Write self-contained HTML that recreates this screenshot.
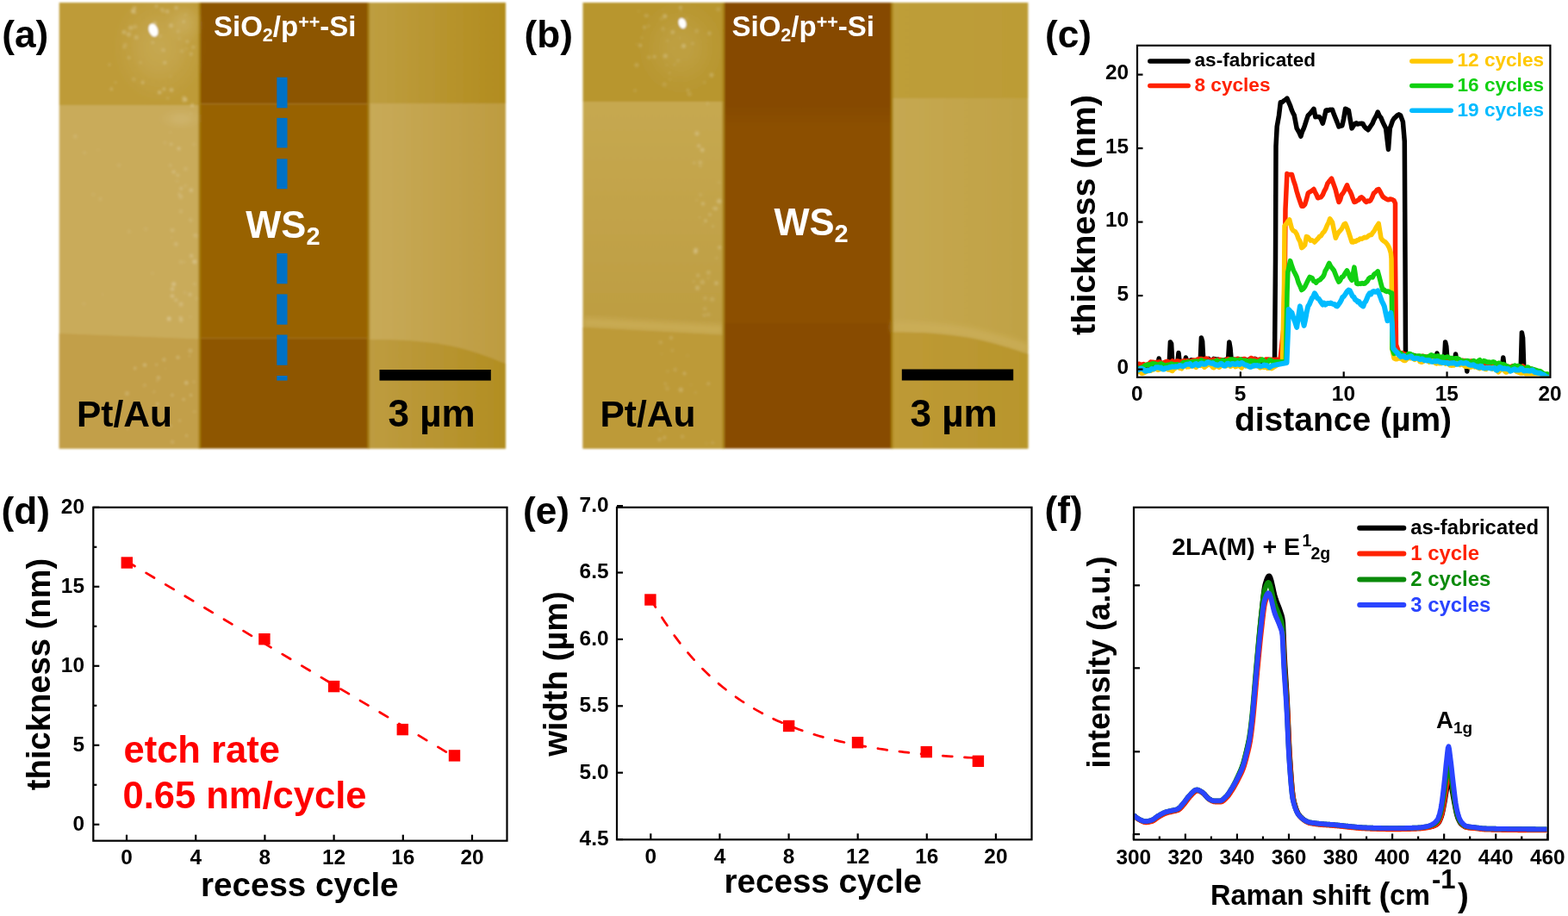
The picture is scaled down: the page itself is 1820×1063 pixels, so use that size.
<!DOCTYPE html>
<html><head><meta charset="utf-8"><style>html,body{margin:0;padding:0;background:#fff;overflow:hidden;}svg{display:block;}</style></head><body>
<svg width="1820" height="1063" viewBox="0 0 1820 1063" font-family="'Liberation Sans', Arial, sans-serif">
<defs>
<linearGradient id="grua" x1="0" x2="1" y1="0" y2="0"><stop offset="0" stop-color="#BE9E40"/><stop offset="1" stop-color="#B28C1E"/></linearGradient>
<linearGradient id="grma" x1="0" x2="1" y1="0" y2="0"><stop offset="0" stop-color="#C8AA58"/><stop offset="1" stop-color="#BE9C40"/></linearGradient>
<linearGradient id="grla" x1="0" x2="1" y1="0" y2="0"><stop offset="0" stop-color="#BE9C40"/><stop offset="1" stop-color="#B28E22"/></linearGradient>
<linearGradient id="grub" x1="0" x2="1" y1="0" y2="0"><stop offset="0" stop-color="#BE9E3A"/><stop offset="1" stop-color="#BC9C36"/></linearGradient>
<linearGradient id="grmb" x1="0" x2="1" y1="0" y2="0"><stop offset="0" stop-color="#C6A852"/><stop offset="1" stop-color="#C0A244"/></linearGradient>
<linearGradient id="grlb" x1="0" x2="1" y1="0" y2="0"><stop offset="0" stop-color="#BE9A36"/><stop offset="1" stop-color="#B8962C"/></linearGradient>
<filter id="soft" x="-2%" y="-2%" width="104%" height="104%"><feGaussianBlur stdDeviation="0.8"/></filter>
<filter id="hlb" x="-5%" y="-100%" width="110%" height="300%"><feGaussianBlur stdDeviation="3"/></filter>
<filter id="spk" x="-5%" y="-5%" width="110%" height="110%"><feGaussianBlur stdDeviation="0.9"/></filter>
<radialGradient id="hazeg"><stop offset="0" stop-color="#fff" stop-opacity="1"/><stop offset="0.3" stop-color="#fff" stop-opacity="0.8"/><stop offset="0.55" stop-color="#fff" stop-opacity="0.45"/><stop offset="0.8" stop-color="#fff" stop-opacity="0.15"/><stop offset="1" stop-color="#fff" stop-opacity="0"/></radialGradient>
</defs>
<rect width="1820" height="1063" fill="#fff"/>
<g filter="url(#soft)">
<clipPath id="clipa"><rect x="68.5" y="3" width="518.5" height="517.7"/></clipPath>
<g clip-path="url(#clipa)">
<rect x="68.5" y="3" width="163.1" height="119" fill="#BE9B37"/>
<rect x="68.5" y="122" width="163.1" height="398.70000000000005" fill="#C9AB5A"/>
<path d="M68.5,387 L231.6,393.5 L231.6,520.7 L68.5,520.7 Z" fill="#C29F48"/>
<rect x="231.6" y="3" width="196.20000000000002" height="117.7" fill="#8C5400"/>
<rect x="231.6" y="120.7" width="196.20000000000002" height="272.1" fill="#986200"/>
<rect x="231.6" y="392.8" width="196.20000000000002" height="127.90000000000003" fill="#8E5700"/>
<rect x="427.8" y="3" width="159.2" height="117" fill="url(#grua)"/>
<rect x="427.8" y="120" width="159.2" height="400.70000000000005" fill="url(#grma)"/>
<path d="M427.8,394 C507.4,394 537.4,402 587,422 L587,520.7 L427.8,520.7 Z" fill="url(#grla)"/>
<rect x="230.29999999999998" y="3" width="2.6" height="517.7" fill="#A88012"/>
<rect x="426.5" y="3" width="2.6" height="517.7" fill="#A88012"/>
<g filter="url(#spk)">
<circle cx="149.51" cy="66.95" r="1.59" fill="#fff" opacity="0.24"/>
<circle cx="189.45" cy="13.34" r="1.02" fill="#fff" opacity="0.29"/>
<circle cx="151.71" cy="32.25" r="2.59" fill="#fff" opacity="0.21"/>
<circle cx="211.16" cy="59.35" r="2.02" fill="#fff" opacity="0.15"/>
<circle cx="190.39" cy="103.22" r="1.84" fill="#fff" opacity="0.27"/>
<circle cx="194.16" cy="13.17" r="2.21" fill="#fff" opacity="0.24"/>
<circle cx="156.03" cy="9.47" r="2.38" fill="#fff" opacity="0.21"/>
<circle cx="199.04" cy="104.43" r="2.14" fill="#fff" opacity="0.3"/>
<circle cx="165.68" cy="95.7" r="1.71" fill="#fff" opacity="0.31"/>
<circle cx="215.52" cy="16.91" r="1.22" fill="#fff" opacity="0.16"/>
<circle cx="224.44" cy="54.85" r="2" fill="#fff" opacity="0.18"/>
<circle cx="177.25" cy="49.22" r="1.56" fill="#fff" opacity="0.24"/>
<circle cx="185.18" cy="107.27" r="2.09" fill="#fff" opacity="0.31"/>
<circle cx="213.21" cy="116.99" r="2.07" fill="#fff" opacity="0.15"/>
<circle cx="213.65" cy="114.04" r="2.45" fill="#fff" opacity="0.23"/>
<circle cx="198.52" cy="29.65" r="2.33" fill="#fff" opacity="0.23"/>
<circle cx="154.35" cy="13.11" r="2.37" fill="#fff" opacity="0.32"/>
<circle cx="134.12" cy="95.67" r="1.66" fill="#fff" opacity="0.15"/>
<circle cx="155.27" cy="92.1" r="2.4" fill="#fff" opacity="0.13"/>
<circle cx="188.3" cy="11.03" r="2.15" fill="#fff" opacity="0.19"/>
<circle cx="215.73" cy="115.83" r="1.81" fill="#fff" opacity="0.32"/>
<circle cx="156.9" cy="14.62" r="1.96" fill="#fff" opacity="0.13"/>
<circle cx="145.33" cy="51.69" r="1.98" fill="#fff" opacity="0.15"/>
<circle cx="129.37" cy="103.19" r="1.5" fill="#fff" opacity="0.31"/>
<circle cx="217.36" cy="48.31" r="1.74" fill="#fff" opacity="0.22"/>
<circle cx="191.32" cy="72.71" r="1.89" fill="#fff" opacity="0.24"/>
<circle cx="221.88" cy="62.79" r="1.69" fill="#fff" opacity="0.26"/>
<circle cx="149.48" cy="39.72" r="2.56" fill="#fff" opacity="0.22"/>
<circle cx="181.49" cy="7.28" r="1.66" fill="#fff" opacity="0.24"/>
<circle cx="127.07" cy="74.97" r="2.01" fill="#fff" opacity="0.13"/>
<circle cx="189.62" cy="58.22" r="2.09" fill="#fff" opacity="0.19"/>
<circle cx="197.82" cy="88.66" r="1.04" fill="#fff" opacity="0.13"/>
<circle cx="194.63" cy="113.89" r="1.4" fill="#fff" opacity="0.21"/>
<circle cx="186.05" cy="41.84" r="1.58" fill="#fff" opacity="0.18"/>
<circle cx="163.02" cy="72.71" r="1.48" fill="#fff" opacity="0.2"/>
<circle cx="204.54" cy="9.02" r="1.91" fill="#fff" opacity="0.27"/>
<circle cx="156.93" cy="30.92" r="2.29" fill="#fff" opacity="0.17"/>
<circle cx="144.3" cy="54.75" r="2.12" fill="#fff" opacity="0.14"/>
<circle cx="158.16" cy="43.38" r="2.33" fill="#fff" opacity="0.21"/>
<circle cx="213.12" cy="24.96" r="1.54" fill="#fff" opacity="0.25"/>
<circle cx="216.14" cy="56.52" r="1.36" fill="#fff" opacity="0.14"/>
<circle cx="179.55" cy="27.37" r="2.29" fill="#fff" opacity="0.29"/>
<circle cx="143.91" cy="37.2" r="2.29" fill="#fff" opacity="0.25"/>
<circle cx="208.04" cy="44.67" r="1.21" fill="#fff" opacity="0.18"/>
<circle cx="206.77" cy="36.37" r="1.55" fill="#fff" opacity="0.2"/>
<circle cx="209.85" cy="228.52" r="2.47" fill="#fff" opacity="0.15"/>
<circle cx="196.15" cy="369.97" r="2.41" fill="#fff" opacity="0.3"/>
<circle cx="210.33" cy="371.79" r="2.48" fill="#fff" opacity="0.16"/>
<circle cx="220.6" cy="341.73" r="2.06" fill="#fff" opacity="0.21"/>
<circle cx="205.54" cy="210.38" r="1.36" fill="#fff" opacity="0.13"/>
<circle cx="215.43" cy="196.06" r="2.3" fill="#fff" opacity="0.13"/>
<circle cx="225.82" cy="303.83" r="2.48" fill="#fff" opacity="0.28"/>
<circle cx="225.69" cy="272.89" r="1.02" fill="#fff" opacity="0.25"/>
<circle cx="201.67" cy="199.47" r="2.06" fill="#fff" opacity="0.21"/>
<circle cx="209.65" cy="368.85" r="1.98" fill="#fff" opacity="0.18"/>
<circle cx="204.33" cy="348.34" r="1.76" fill="#fff" opacity="0.26"/>
<circle cx="207.61" cy="172.29" r="1.86" fill="#fff" opacity="0.27"/>
<circle cx="201.65" cy="329.79" r="2.47" fill="#fff" opacity="0.27"/>
<circle cx="223.18" cy="121.99" r="2.01" fill="#fff" opacity="0.28"/>
<circle cx="197.65" cy="191.92" r="1.43" fill="#fff" opacity="0.21"/>
<circle cx="209.96" cy="245.32" r="2.24" fill="#fff" opacity="0.12"/>
<circle cx="197.81" cy="153.62" r="1.2" fill="#fff" opacity="0.13"/>
<circle cx="228.16" cy="346.43" r="1.14" fill="#fff" opacity="0.21"/>
<circle cx="206.42" cy="203.36" r="1.56" fill="#fff" opacity="0.24"/>
<circle cx="215.36" cy="215.62" r="1.31" fill="#fff" opacity="0.18"/>
<circle cx="200.08" cy="267.21" r="2.15" fill="#fff" opacity="0.19"/>
<circle cx="198.64" cy="167.32" r="1.6" fill="#fff" opacity="0.23"/>
<circle cx="221.83" cy="220.77" r="2.28" fill="#fff" opacity="0.23"/>
<circle cx="210.24" cy="218.69" r="1.79" fill="#fff" opacity="0.25"/>
<circle cx="209.88" cy="303.94" r="1.74" fill="#fff" opacity="0.16"/>
<circle cx="213.68" cy="304.22" r="1.11" fill="#fff" opacity="0.2"/>
<circle cx="210.05" cy="353.11" r="2.5" fill="#fff" opacity="0.19"/>
<circle cx="225.63" cy="329.59" r="1.42" fill="#fff" opacity="0.2"/>
<circle cx="200.06" cy="335.5" r="2.06" fill="#fff" opacity="0.28"/>
<circle cx="222.15" cy="296.9" r="2.17" fill="#fff" opacity="0.22"/>
<circle cx="199.4" cy="275.76" r="1.01" fill="#fff" opacity="0.15"/>
<circle cx="221.55" cy="131.74" r="1.15" fill="#fff" opacity="0.14"/>
<circle cx="225.06" cy="167.48" r="1.04" fill="#fff" opacity="0.27"/>
<circle cx="200" cy="343.64" r="2.08" fill="#fff" opacity="0.27"/>
<circle cx="227.43" cy="273.46" r="2.28" fill="#fff" opacity="0.13"/>
<circle cx="221.32" cy="255.5" r="2.14" fill="#fff" opacity="0.14"/>
<circle cx="220.72" cy="367.66" r="1.1" fill="#fff" opacity="0.18"/>
<circle cx="214.61" cy="339.44" r="1.39" fill="#fff" opacity="0.15"/>
<circle cx="204.25" cy="283.23" r="2.21" fill="#fff" opacity="0.19"/>
<circle cx="208.13" cy="225.11" r="1.56" fill="#fff" opacity="0.2"/>
<circle cx="147.41" cy="456.54" r="2.56" fill="#fff" opacity="0.17"/>
<circle cx="206.52" cy="414.76" r="2.11" fill="#fff" opacity="0.24"/>
<circle cx="199.97" cy="458.6" r="1.77" fill="#fff" opacity="0.22"/>
<circle cx="219.87" cy="413.37" r="1.15" fill="#fff" opacity="0.23"/>
<circle cx="221.58" cy="458.62" r="1.71" fill="#fff" opacity="0.23"/>
<circle cx="156.56" cy="427.88" r="1.32" fill="#fff" opacity="0.21"/>
<circle cx="168.02" cy="423.57" r="2.11" fill="#fff" opacity="0.27"/>
<circle cx="166.33" cy="481.76" r="1.66" fill="#fff" opacity="0.25"/>
<circle cx="192.03" cy="427.86" r="1.35" fill="#fff" opacity="0.1"/>
<circle cx="182.67" cy="442.08" r="1.28" fill="#fff" opacity="0.16"/>
<circle cx="168.66" cy="490.23" r="1.23" fill="#fff" opacity="0.28"/>
<circle cx="182.68" cy="468.68" r="1.75" fill="#fff" opacity="0.25"/>
<circle cx="213.12" cy="463.53" r="1.77" fill="#fff" opacity="0.23"/>
<circle cx="216.24" cy="444.23" r="2.17" fill="#fff" opacity="0.27"/>
<circle cx="181.6" cy="423.24" r="1.38" fill="#fff" opacity="0.23"/>
<circle cx="200.11" cy="512.92" r="2.37" fill="#fff" opacity="0.14"/>
<circle cx="156.88" cy="426.81" r="1.3" fill="#fff" opacity="0.23"/>
<circle cx="216.42" cy="505.67" r="1.41" fill="#fff" opacity="0.26"/>
<circle cx="167.89" cy="447.07" r="2.17" fill="#fff" opacity="0.12"/>
<circle cx="148.25" cy="497.57" r="1.47" fill="#fff" opacity="0.16"/>
<circle cx="191.65" cy="478.09" r="1.01" fill="#fff" opacity="0.16"/>
<circle cx="178.82" cy="454.77" r="1.34" fill="#fff" opacity="0.21"/>
<circle cx="225.03" cy="443.08" r="1.87" fill="#fff" opacity="0.12"/>
<circle cx="164.45" cy="476.85" r="1.18" fill="#fff" opacity="0.26"/>
<circle cx="220.88" cy="406.92" r="2.51" fill="#fff" opacity="0.17"/>
<circle cx="208.75" cy="488.15" r="1.47" fill="#fff" opacity="0.22"/>
<circle cx="198.21" cy="494.14" r="1.42" fill="#fff" opacity="0.24"/>
<circle cx="225.56" cy="477.76" r="1.86" fill="#fff" opacity="0.12"/>
<circle cx="183.96" cy="438.32" r="2.15" fill="#fff" opacity="0.22"/>
<circle cx="190.41" cy="417.38" r="2.03" fill="#fff" opacity="0.21"/>
<circle cx="97.39" cy="352.48" r="2.05" fill="#fff" opacity="0.07"/>
<circle cx="191.48" cy="165.35" r="1.53" fill="#fff" opacity="0.12"/>
<circle cx="149.68" cy="268.73" r="2.04" fill="#fff" opacity="0.1"/>
<circle cx="114.06" cy="174.1" r="1.11" fill="#fff" opacity="0.12"/>
<circle cx="169.31" cy="265.78" r="2.18" fill="#fff" opacity="0.09"/>
<circle cx="108.23" cy="225.84" r="2.4" fill="#fff" opacity="0.06"/>
<circle cx="138.09" cy="191.8" r="2.23" fill="#fff" opacity="0.09"/>
<circle cx="116.61" cy="230.83" r="1.87" fill="#fff" opacity="0.13"/>
<circle cx="119.11" cy="341.72" r="1.18" fill="#fff" opacity="0.08"/>
<circle cx="87.46" cy="158.17" r="2.25" fill="#fff" opacity="0.13"/>
<circle cx="98.11" cy="177.29" r="1.67" fill="#fff" opacity="0.13"/>
<circle cx="176.97" cy="317.18" r="1.95" fill="#fff" opacity="0.07"/>
</g>
<ellipse cx="185" cy="55" rx="60" ry="70" fill="url(#hazeg)" opacity="0.13"/>
<ellipse cx="215" cy="25" rx="25" ry="28" fill="url(#hazeg)" opacity="0.12"/>
<ellipse cx="210" cy="138" rx="28" ry="14" fill="url(#hazeg)" opacity="0.1"/>
<ellipse cx="178" cy="35" rx="5.2" ry="7.8" fill="#fff" transform="rotate(-20 178 35)"/>
</g>
</g>
<rect x="321.3" y="89.7" width="12.2" height="35.6" fill="#0071C5"/>
<rect x="321.3" y="136.9" width="12.2" height="34.6" fill="#0071C5"/>
<rect x="321.3" y="184.4" width="12.2" height="34.8" fill="#0071C5"/>
<rect x="321.3" y="294" width="12.2" height="35.3" fill="#0071C5"/>
<rect x="321.3" y="341.4" width="12.2" height="35.3" fill="#0071C5"/>
<rect x="321.3" y="388.5" width="12.2" height="35.3" fill="#0071C5"/>
<rect x="321.3" y="436" width="12.2" height="5.6" fill="#0071C5"/>
<g filter="url(#soft)">
<clipPath id="clipb"><rect x="676.3" y="3" width="517.3" height="517.7"/></clipPath>
<g clip-path="url(#clipb)">
<rect x="676.3" y="3" width="163.5" height="115" fill="#B8962E"/>
<linearGradient id="glmb" gradientUnits="userSpaceOnUse" x1="0" y1="130" x2="0" y2="370"><stop offset="0" stop-color="#C6A850"/><stop offset="1" stop-color="#BE9E42"/></linearGradient>
<rect x="676.3" y="118" width="163.5" height="402.70000000000005" fill="url(#glmb)"/>
<path d="M676.3,374.0 L839.8,383.0" stroke="#CDB05C" stroke-width="12" opacity="0.7" fill="none" filter="url(#hlb)"/>
<path d="M676.3,380 L839.8,389 L839.8,520.7 L676.3,520.7 Z" fill="#BD9A38"/>
<rect x="839.8" y="3" width="195.60000000000014" height="119" fill="#864A00"/>
<rect x="839.8" y="122" width="195.60000000000014" height="253" fill="#8C5000"/>
<linearGradient id="gsmb" gradientUnits="userSpaceOnUse" x1="0" y1="122" x2="0" y2="148"><stop offset="0" stop-color="#864A00"/><stop offset="1" stop-color="#8C5000"/></linearGradient>
<rect x="839.8" y="122" width="195.60000000000014" height="26" fill="url(#gsmb)"/>
<rect x="839.8" y="375" width="195.60000000000014" height="145.70000000000005" fill="#884C00"/>
<rect x="1035.4" y="3" width="158.19999999999982" height="111" fill="url(#grub)"/>
<rect x="1035.4" y="114" width="158.19999999999982" height="406.70000000000005" fill="url(#grmb)"/>
<path d="M1035.4,379.6 C1114.5,379.6 1144.5,389.0 1193.6,405.0" stroke="#CDB05C" stroke-width="12" opacity="0.7" fill="none" filter="url(#hlb)"/>
<path d="M1035.4,385.6 C1114.5,385.6 1144.5,395 1193.6,411 L1193.6,520.7 L1035.4,520.7 Z" fill="url(#grlb)"/>
<rect x="838.5" y="3" width="2.6" height="517.7" fill="#A88012"/>
<rect x="1034.1000000000001" y="3" width="2.6" height="517.7" fill="#A88012"/>
<g filter="url(#spk)">
<circle cx="767.71" cy="21.69" r="2.04" fill="#fff" opacity="0.11"/>
<circle cx="789.12" cy="44.03" r="1.09" fill="#fff" opacity="0.19"/>
<circle cx="738.79" cy="51.1" r="1.11" fill="#fff" opacity="0.12"/>
<circle cx="777.88" cy="91.99" r="1.2" fill="#fff" opacity="0.14"/>
<circle cx="798.37" cy="104.56" r="1.92" fill="#fff" opacity="0.17"/>
<circle cx="833.6" cy="10.84" r="2.37" fill="#fff" opacity="0.15"/>
<circle cx="749.57" cy="18.25" r="1.49" fill="#fff" opacity="0.25"/>
<circle cx="753.25" cy="66.49" r="2.02" fill="#fff" opacity="0.17"/>
<circle cx="790.32" cy="12.53" r="1.1" fill="#fff" opacity="0.14"/>
<circle cx="803.72" cy="50.47" r="1.5" fill="#fff" opacity="0.21"/>
<circle cx="780.77" cy="37.18" r="2.27" fill="#fff" opacity="0.23"/>
<circle cx="759.65" cy="65.74" r="1.84" fill="#fff" opacity="0.26"/>
<circle cx="808.67" cy="35.95" r="2.57" fill="#fff" opacity="0.12"/>
<circle cx="777.23" cy="84.74" r="1.24" fill="#fff" opacity="0.19"/>
<circle cx="738.96" cy="75.49" r="2.22" fill="#fff" opacity="0.2"/>
<circle cx="823.42" cy="38.63" r="2.11" fill="#fff" opacity="0.21"/>
<circle cx="793.57" cy="53.45" r="2.34" fill="#fff" opacity="0.27"/>
<circle cx="782.88" cy="75.07" r="1.1" fill="#fff" opacity="0.23"/>
<circle cx="800.36" cy="109.28" r="2.32" fill="#fff" opacity="0.15"/>
<circle cx="773.96" cy="75.54" r="1.04" fill="#fff" opacity="0.18"/>
<circle cx="751.97" cy="18.18" r="1.09" fill="#fff" opacity="0.24"/>
<circle cx="748.06" cy="31.75" r="1.63" fill="#fff" opacity="0.26"/>
<circle cx="743.14" cy="52.72" r="1.88" fill="#fff" opacity="0.26"/>
<circle cx="817.75" cy="95.85" r="1.45" fill="#fff" opacity="0.17"/>
<circle cx="771.24" cy="97.96" r="2.53" fill="#fff" opacity="0.13"/>
<circle cx="752.8" cy="30.12" r="1.37" fill="#fff" opacity="0.19"/>
<circle cx="794.5" cy="33.33" r="1.01" fill="#fff" opacity="0.18"/>
<circle cx="772.29" cy="64.9" r="2.52" fill="#fff" opacity="0.22"/>
<circle cx="787.06" cy="70.23" r="2.08" fill="#fff" opacity="0.11"/>
<circle cx="825.85" cy="87.12" r="2.4" fill="#fff" opacity="0.24"/>
<circle cx="774.63" cy="47.49" r="1.17" fill="#fff" opacity="0.21"/>
<circle cx="741.29" cy="13" r="1.33" fill="#fff" opacity="0.13"/>
<circle cx="769.35" cy="11.47" r="1" fill="#fff" opacity="0.13"/>
<circle cx="745.25" cy="43.82" r="1.04" fill="#fff" opacity="0.26"/>
<circle cx="797.02" cy="21.45" r="1.4" fill="#fff" opacity="0.16"/>
<circle cx="771.78" cy="18.78" r="2.36" fill="#fff" opacity="0.28"/>
<circle cx="782.06" cy="56.32" r="1.14" fill="#fff" opacity="0.12"/>
<circle cx="769.61" cy="33.53" r="2.33" fill="#fff" opacity="0.13"/>
<circle cx="737.33" cy="104.9" r="1.85" fill="#fff" opacity="0.13"/>
<circle cx="789.86" cy="8.81" r="1.84" fill="#fff" opacity="0.28"/>
<circle cx="831.76" cy="299.49" r="1.42" fill="#fff" opacity="0.16"/>
<circle cx="810.18" cy="319.56" r="1.85" fill="#fff" opacity="0.22"/>
<circle cx="815.22" cy="174.11" r="2.3" fill="#fff" opacity="0.26"/>
<circle cx="831.43" cy="328.61" r="2.31" fill="#fff" opacity="0.22"/>
<circle cx="812.03" cy="252.17" r="1.57" fill="#fff" opacity="0.1"/>
<circle cx="805.87" cy="189.05" r="1.41" fill="#fff" opacity="0.21"/>
<circle cx="834.65" cy="233.52" r="2.5" fill="#fff" opacity="0.26"/>
<circle cx="834.61" cy="211.63" r="1.35" fill="#fff" opacity="0.14"/>
<circle cx="811.1" cy="169.16" r="2" fill="#fff" opacity="0.24"/>
<circle cx="831.05" cy="242.06" r="2.04" fill="#fff" opacity="0.23"/>
<circle cx="807.63" cy="290.06" r="2.46" fill="#fff" opacity="0.23"/>
<circle cx="828.25" cy="241.68" r="1.29" fill="#fff" opacity="0.23"/>
<circle cx="815.31" cy="327.22" r="2.55" fill="#fff" opacity="0.16"/>
<circle cx="817.44" cy="365.9" r="2.16" fill="#fff" opacity="0.13"/>
<circle cx="808.94" cy="155.05" r="2.45" fill="#fff" opacity="0.23"/>
<circle cx="809.53" cy="334.03" r="2.57" fill="#fff" opacity="0.21"/>
<circle cx="815.86" cy="260.39" r="1.21" fill="#fff" opacity="0.1"/>
<circle cx="835.1" cy="287.16" r="1.84" fill="#fff" opacity="0.25"/>
<circle cx="818.45" cy="346.01" r="2.32" fill="#fff" opacity="0.13"/>
<circle cx="812.81" cy="192.64" r="1.38" fill="#fff" opacity="0.19"/>
<circle cx="813.04" cy="226.04" r="1.21" fill="#fff" opacity="0.25"/>
<circle cx="815.97" cy="236.41" r="1.93" fill="#fff" opacity="0.24"/>
<circle cx="818.04" cy="358.2" r="1.8" fill="#fff" opacity="0.19"/>
<circle cx="821.23" cy="119.96" r="1.7" fill="#fff" opacity="0.13"/>
<circle cx="805.12" cy="326.78" r="1.28" fill="#fff" opacity="0.18"/>
<circle cx="827.48" cy="262.47" r="1.52" fill="#fff" opacity="0.18"/>
<circle cx="822.22" cy="322.83" r="1.17" fill="#fff" opacity="0.19"/>
<circle cx="812.7" cy="188.38" r="2.24" fill="#fff" opacity="0.18"/>
<circle cx="822.41" cy="316.4" r="2.46" fill="#fff" opacity="0.17"/>
<circle cx="823.99" cy="248.97" r="1.82" fill="#fff" opacity="0.21"/>
<circle cx="819.02" cy="256.32" r="1.76" fill="#fff" opacity="0.25"/>
<circle cx="826.68" cy="347.28" r="2.51" fill="#fff" opacity="0.14"/>
<circle cx="822.34" cy="364.97" r="2.34" fill="#fff" opacity="0.12"/>
<circle cx="808.77" cy="232.16" r="1.12" fill="#fff" opacity="0.14"/>
<circle cx="807.27" cy="292.41" r="2.25" fill="#fff" opacity="0.24"/>
<circle cx="771.74" cy="481.66" r="2.06" fill="#fff" opacity="0.1"/>
<circle cx="827.1" cy="513.85" r="1.35" fill="#fff" opacity="0.23"/>
<circle cx="790.27" cy="452.37" r="2.58" fill="#fff" opacity="0.21"/>
<circle cx="772.27" cy="445.23" r="1.82" fill="#fff" opacity="0.13"/>
<circle cx="774.88" cy="430.77" r="2.16" fill="#fff" opacity="0.08"/>
<circle cx="802.11" cy="446.38" r="1.03" fill="#fff" opacity="0.13"/>
<circle cx="807.42" cy="455.57" r="1.1" fill="#fff" opacity="0.24"/>
<circle cx="819.92" cy="514.38" r="1.17" fill="#fff" opacity="0.12"/>
<circle cx="763.01" cy="489.71" r="1.43" fill="#fff" opacity="0.1"/>
<circle cx="792.09" cy="506.66" r="2.31" fill="#fff" opacity="0.12"/>
<circle cx="771.35" cy="507.65" r="1.91" fill="#fff" opacity="0.19"/>
<circle cx="766.8" cy="397.36" r="2.1" fill="#fff" opacity="0.15"/>
<circle cx="765.5" cy="510.11" r="2.02" fill="#fff" opacity="0.21"/>
<circle cx="766.36" cy="499.6" r="1.11" fill="#fff" opacity="0.22"/>
<circle cx="794.49" cy="433.41" r="1.88" fill="#fff" opacity="0.23"/>
<circle cx="780.36" cy="406.54" r="1.84" fill="#fff" opacity="0.12"/>
<circle cx="768.32" cy="410.67" r="1.08" fill="#fff" opacity="0.11"/>
<circle cx="783.71" cy="429.04" r="2.22" fill="#fff" opacity="0.13"/>
<circle cx="798.01" cy="412.77" r="1.56" fill="#fff" opacity="0.08"/>
<circle cx="779.03" cy="391.96" r="2.17" fill="#fff" opacity="0.17"/>
<circle cx="774.4" cy="450.77" r="2.5" fill="#fff" opacity="0.1"/>
<circle cx="822.24" cy="445.32" r="1.79" fill="#fff" opacity="0.21"/>
</g>
<ellipse cx="790" cy="55" rx="55" ry="60" fill="url(#hazeg)" opacity="0.1"/>
<ellipse cx="792" cy="27" rx="4.3" ry="6.2" fill="#fff" transform="rotate(-20 792 27)"/>
</g>
</g>
<text x="248" y="42" font-size="33" fill="#fff" font-weight="bold">SiO<tspan font-size="21.5" dy="6">2</tspan><tspan dy="-6">/p</tspan><tspan font-size="21.5" dy="-9.5">++</tspan><tspan dy="9.5">-Si</tspan></text>
<text x="285.3" y="275.8" font-size="43.5" fill="#fff" font-weight="bold">WS<tspan font-size="29" dy="8.5">2</tspan></text>
<text x="89" y="494.7" font-size="42.5" fill="#000" text-anchor="start" font-weight="bold" >Pt/Au</text>
<text x="450.5" y="495" font-size="44" fill="#000" text-anchor="start" font-weight="bold" >3 µm</text>
<rect x="440.5" y="429" width="129.29999999999995" height="12.600000000000023" fill="#000"/>
<text x="849.5" y="42" font-size="33" fill="#fff" font-weight="bold">SiO<tspan font-size="21.5" dy="6">2</tspan><tspan dy="-6">/p</tspan><tspan font-size="21.5" dy="-9.5">++</tspan><tspan dy="9.5">-Si</tspan></text>
<text x="898.5" y="272.5" font-size="43.5" fill="#fff" font-weight="bold">WS<tspan font-size="29" dy="8.5">2</tspan></text>
<text x="696.5" y="494.7" font-size="42.5" fill="#000" text-anchor="start" font-weight="bold" >Pt/Au</text>
<text x="1056.5" y="495" font-size="44" fill="#000" text-anchor="start" font-weight="bold" >3 µm</text>
<rect x="1046.8" y="428.5" width="129.4000000000001" height="13.0" fill="#000"/>
<text x="2.2" y="54.8" font-size="44.2" fill="#000" text-anchor="start" font-weight="bold" >(a)</text>
<text x="608.5" y="55.2" font-size="44.2" fill="#000" text-anchor="start" font-weight="bold" >(b)</text>
<text x="1213" y="54.8" font-size="44.2" fill="#000" text-anchor="start" font-weight="bold" >(c)</text>
<text x="1.5" y="608" font-size="44.2" fill="#000" text-anchor="start" font-weight="bold" >(d)</text>
<text x="607" y="608" font-size="44.2" fill="#000" text-anchor="start" font-weight="bold" >(e)</text>
<text x="1212.5" y="606.5" font-size="44.2" fill="#000" text-anchor="start" font-weight="bold" >(f)</text>
<clipPath id="clipc"><rect x="1321" y="54" width="477" height="382.5"/></clipPath>
<g clip-path="url(#clipc)" fill="none" stroke-linejoin="round" stroke-linecap="round">
<polyline points="1320,425.51 1321.2,426.31 1322.4,426.49 1323.6,426.42 1324.8,426.01 1326,425.62 1327.2,425.18 1328.4,424.68 1329.6,424.88 1330.8,424.53 1332,423.89 1333.2,423.84 1334.4,424.02 1335.6,423.32 1336.8,422.83 1338,422.82 1339.2,423.77 1340.4,423.61 1341.6,422.83 1342.8,422 1344,422.17 1345.2,416 1346.4,421.55 1347.6,422.09 1348.8,422.78 1350,422.9 1351.2,422.17 1352.4,421.67 1353.6,421.79 1354.8,421.91 1356,421.5 1357.2,421.28 1358.4,397 1359.6,399 1360.8,421.04 1362,421.12 1363.2,421.54 1364.4,421.36 1365.6,421.14 1366.8,420.83 1368,409.6 1369.2,419.91 1370.4,420.04 1371.6,420.09 1372.8,420.34 1374,420.59 1375.2,420.43 1376.4,415 1377.6,419.12 1378.8,419.06 1380,419.12 1381.2,418.56 1382.4,417.84 1383.6,418.03 1384.8,418.54 1386,418.76 1387.2,419.37 1388.4,419.45 1389.6,419.24 1390.8,418.44 1392,418.62 1393.2,418.64 1394.4,392 1395.6,396 1396.8,417.79 1398,418.35 1399.2,418.14 1400.4,417.05 1401.6,416.58 1402.8,416.32 1404,417.84 1405.2,418.23 1406.4,418.51 1407.6,417.43 1408.8,416.35 1410,416.59 1411.2,416.98 1412.4,417.13 1413.6,417.08 1414.8,417.98 1416,418.32 1417.2,418.44 1418.4,417.84 1419.6,418 1420.8,418.38 1422,417.58 1423.2,417.19 1424.4,416.85 1425.6,416.87 1426.8,397 1428,404 1429.2,417.8 1430.4,417.34 1431.6,417.03 1432.8,417.53 1434,417.91 1435.2,417.83 1436.4,417.61 1437.6,418.19 1438.8,418.17 1440,418 1441.2,417.22 1442.4,417.06 1443.6,417.44 1444.8,418.04 1446,417.54 1447.2,417.94 1448.4,417.49 1449.6,417.58 1450.8,416.83 1452,417.06 1453.2,417.05 1454.4,417.5 1455.6,416.81 1456.8,416.37 1458,417.09 1459.2,418.8 1460.4,418.87 1461.6,418.56 1462.8,418.46 1464,419.29 1465.2,419.33 1466.4,418.61 1467.6,417.94 1468.8,417.79 1470,418.17 1471.2,418.1 1472.4,417.5 1473.6,417.67 1474.8,418.31 1476,418.36 1477.2,418.14 1479.5,418 1480.5,300 1481,169.6 1482.2,147 1484.5,133.9 1486.3,118.8 1488.15,118.52 1490,117 1491.95,115.76 1493.9,114.1 1495.75,118.42 1497.6,122.6 1499.17,127.38 1500.73,130.99 1502.3,133.9 1505.2,148.9 1506.77,151.65 1508.33,154.5 1509.9,158.3 1511.47,152.8 1513.03,149.57 1514.6,145.2 1516.45,139.32 1518.3,133.9 1520.15,132.17 1522,130 1523.5,128.16 1525,126.3 1526.8,135.7 1528.37,135.31 1529.93,135.46 1531.5,135.7 1533.4,138.57 1535.3,143.3 1537.15,136.49 1539,128.2 1540.5,127.7 1542,128.21 1543.5,127.27 1545,127.52 1546.5,127.3 1548.4,132.83 1550.3,137.6 1552.15,142.14 1554,147 1555.9,146.01 1557.8,146 1559.7,137.55 1561.6,126.3 1563.5,127.13 1565.4,128.2 1567.25,138.89 1569.1,148.9 1571,146.05 1572.9,143.3 1574.4,142.84 1575.9,144.09 1577.4,143.53 1578.9,143.5 1580.4,143.3 1581.92,143.43 1583.44,146.47 1584.96,148.3 1586.48,149.47 1588,150.8 1589.85,147.91 1591.7,145.2 1593.2,142.9 1594.7,139.31 1596.2,136.49 1597.7,133.74 1599.2,130.1 1601.1,134.47 1603,136.84 1604.9,141.4 1606.75,145.35 1608.6,148.9 1611.5,173.4 1613.3,148.9 1614.87,144.68 1616.43,140.16 1618,137.6 1619.9,135.92 1621.8,133.9 1623.7,132.86 1625.6,133.9 1628.4,141.4 1630.3,164 1631,300 1631.5,415 1632,412.31 1633.2,412.57 1634.4,413.13 1635.6,413.23 1636.8,412.99 1638,413.21 1639.2,413.59 1640.4,413.25 1641.6,412.58 1642.8,413.42 1644,413.64 1645.2,414.13 1646.4,414.08 1647.6,414.82 1648.8,414.65 1650,414.92 1651.2,414.56 1652.4,415.02 1653.6,415.64 1654.8,416.01 1656,415.94 1657.2,415.78 1658.4,415.95 1659.6,415.1 1660.8,415.54 1662,415.87 1663.2,416.57 1664.4,415.65 1665.6,415.65 1666.8,416.41 1668,410 1669.2,417.16 1670.4,417.02 1671.6,417.32 1672.8,417.35 1674,417.56 1675.2,418.41 1676.4,419.32 1677.6,397 1678.8,402 1680,418.64 1681.2,419.26 1682.4,419.16 1683.6,418.28 1684.8,418.5 1686,419.83 1687.2,420.24 1688.4,419.51 1689.6,411 1690.8,420.04 1692,419.97 1693.2,420.43 1694.4,420.37 1695.6,420.14 1696.8,419.17 1698,419.5 1699.2,419.3 1700.4,419.58 1701.6,419.9 1702.8,431 1704,418.96 1705.2,419.77 1706.4,421.25 1707.6,421.61 1708.8,421.22 1710,421.48 1711.2,422.12 1712.4,422.12 1713.6,422.29 1714.8,422.68 1716,422.98 1717.2,422.95 1718.4,423.24 1719.6,422.97 1720.8,422.63 1722,423.18 1723.2,423.21 1724.4,423.73 1725.6,422.91 1726.8,423.09 1728,423.04 1729.2,422.64 1730.4,422.97 1731.6,423.54 1732.8,424.1 1734,423.64 1735.2,423.96 1736.4,424.59 1737.6,425.26 1738.8,424.86 1740,424.56 1741.2,424.96 1742.4,425.05 1743.6,425.13 1744.8,415 1746,425.39 1747.2,425.83 1748.4,425.93 1749.6,425.78 1750.8,426.43 1752,427.72 1753.2,427.88 1754.4,427.25 1755.6,426.33 1756.8,426.42 1758,426.62 1759.2,425.98 1760.4,426.58 1761.6,426.79 1762.8,427.76 1764,427.67 1765.2,427.38 1766.4,386 1767.6,392 1768.8,427.88 1770,427.38 1771.2,427.88 1772.4,428.76 1773.6,429.14 1774.8,429.44 1776,429.48 1777.2,429.76 1778.4,429.32 1779.6,429.13 1780.8,429.43 1782,430.65 1783.2,431.27 1784.4,432.04 1785.6,432.71 1786.8,433.4 1788,433.4 1789.2,434.4 1790.4,435.04 1791.6,435.38 1792.8,435.9 1794,436.34 1795.2,436.47 1796.4,436.8 1797.6,437.24 1798.8,437.2" stroke="#000" stroke-width="5.5"/>
<polyline points="1320,423.12 1321.2,422.45 1322.4,422.33 1323.6,423.14 1324.8,423.27 1326,422.83 1327.2,422.6 1328.4,423.18 1329.6,423.26 1330.8,423.11 1332,423.03 1333.2,422.6 1334.4,421.3 1335.6,420.05 1336.8,420.16 1338,420.32 1339.2,420.53 1340.4,420.72 1341.6,420.55 1342.8,420.45 1344,420.12 1345.2,419.98 1346.4,420.27 1347.6,421.7 1348.8,421.66 1350,421.31 1351.2,420.54 1352.4,420.13 1353.6,419.74 1354.8,419.38 1356,419.62 1357.2,420.47 1358.4,421.04 1359.6,420.07 1360.8,418.91 1362,419.58 1363.2,420.39 1364.4,420.04 1365.6,419.24 1366.8,418.92 1368,419.15 1369.2,419.35 1370.4,420.19 1371.6,420.4 1372.8,419.28 1374,418.71 1375.2,419.11 1376.4,418.92 1377.6,418.71 1378.8,418.89 1380,419.07 1381.2,419.16 1382.4,419.06 1383.6,418.79 1384.8,418.11 1386,417.94 1387.2,418.14 1388.4,418.35 1389.6,417.22 1390.8,416.65 1392,416.45 1393.2,416.42 1394.4,416.42 1395.6,416.69 1396.8,416.91 1398,416.64 1399.2,416.3 1400.4,416.03 1401.6,416.55 1402.8,417.31 1404,417.78 1405.2,418.11 1406.4,418.41 1407.6,417.45 1408.8,417.12 1410,417.58 1411.2,418.68 1412.4,418.6 1413.6,417.74 1414.8,417.23 1416,417.36 1417.2,417.52 1418.4,418.48 1419.6,418.24 1420.8,418.24 1422,418.52 1423.2,418.18 1424.4,416.8 1425.6,416.49 1426.8,418.01 1428,418.93 1429.2,418.18 1430.4,418.08 1431.6,417.51 1432.8,417.16 1434,416.88 1435.2,416.8 1436.4,416.3 1437.6,416.51 1438.8,417.14 1440,417.29 1441.2,417.62 1442.4,416.89 1443.6,416.61 1444.8,416.49 1446,417.75 1447.2,418.65 1448.4,418.92 1449.6,417.84 1450.8,416.93 1452,415.43 1453.2,415.84 1454.4,416.15 1455.6,416.96 1456.8,416.69 1458,417.26 1459.2,417.5 1460.4,417.89 1461.6,417.13 1462.8,416.86 1464,417.16 1465.2,417.67 1466.4,417.75 1467.6,417.89 1468.8,417.29 1470,416.99 1471.2,416.92 1472.4,417.31 1473.6,417.49 1474.8,417.14 1476,417.24 1477.2,417.42 1486,417 1490,380 1491.5,300 1492,243 1493.9,201.6 1495.77,202.57 1497.63,202.45 1499.5,202.5 1501.4,209.39 1503.3,214.91 1505.2,222.3 1507.07,228.31 1508.93,233.8 1510.8,239.2 1512.7,239.2 1514.6,237.3 1516.45,231.43 1518.3,224.2 1519.95,222.92 1521.6,222.08 1523.25,220.9 1524.9,219.5 1526.47,222.91 1528.03,225.87 1529.6,229.8 1531.5,229.14 1533.4,228.72 1535.3,226.1 1537.17,221.68 1539.03,218.32 1540.9,212.9 1542.47,210.84 1544.03,208.93 1545.6,207.2 1547.17,211.62 1548.73,215.85 1550.3,220.4 1552.15,228.07 1554,234.5 1555.6,231.8 1557.2,226.12 1558.8,224.2 1560.37,221.59 1561.93,218.2 1563.5,214.8 1565.35,219.63 1567.2,222.3 1568.77,225.86 1570.33,230.54 1571.9,234.5 1573.6,234.14 1575.3,232.83 1577,232.09 1578.7,229.58 1580.4,228.9 1582.27,230.39 1584.13,233.02 1586,234.5 1587.6,233.07 1589.2,233.53 1590.8,232.6 1592.65,228.99 1594.5,224.2 1596.4,222.87 1598.3,220.29 1600.2,219.5 1601.77,222.02 1603.33,225.01 1604.9,228 1606.77,229.51 1608.63,230.64 1610.5,231.7 1612,231.65 1613.5,231.07 1615,231.16 1616.5,231.83 1618,232.6 1619.5,236 1619.5,300 1620.5,400 1624,410 1626,409.97 1627.2,409.59 1628.4,409.97 1629.6,410.47 1630.8,411.05 1632,411.21 1633.2,411.75 1634.4,411.64 1635.6,411.5 1636.8,411.33 1638,412.13 1639.2,413.07 1640.4,413.96 1641.6,414.08 1642.8,413.75 1644,413.77 1645.2,414.19 1646.4,413.75 1647.6,413.51 1648.8,413.88 1650,413.84 1651.2,413.23 1652.4,413.54 1653.6,413.84 1654.8,414 1656,414.23 1657.2,414.07 1658.4,414.26 1659.6,414.64 1660.8,415.24 1662,415.37 1663.2,415.54 1664.4,415.79 1665.6,415.78 1666.8,416.04 1668,417.26 1669.2,417.96 1670.4,417.17 1671.6,417.27 1672.8,417.03 1674,417.84 1675.2,418.12 1676.4,418.8 1677.6,418.4 1678.8,418.28 1680,417.88 1681.2,418.17 1682.4,418.78 1683.6,419.71 1684.8,419.92 1686,419.72 1687.2,419.6 1688.4,419.5 1689.6,419.54 1690.8,419.58 1692,419.44 1693.2,419.62 1694.4,419.27 1695.6,419.08 1696.8,418.4 1698,418.26 1699.2,419.1 1700.4,418.6 1701.6,418.76 1702.8,419.88 1704,420.78 1705.2,420.29 1706.4,419.49 1707.6,419 1708.8,419.37 1710,419.56 1711.2,419.58 1712.4,420.07 1713.6,420.72 1714.8,421.6 1716,421.53 1717.2,421.58 1718.4,421.72 1719.6,422.41 1720.8,423.09 1722,424.09 1723.2,423.5 1724.4,422.54 1725.6,422.36 1726.8,422.89 1728,423.28 1729.2,423.25 1730.4,422.73 1731.6,421.89 1732.8,422.08 1734,422.4 1735.2,423.46 1736.4,424.09 1737.6,424 1738.8,423.69 1740,423.31 1741.2,423.95 1742.4,424.16 1743.6,424.74 1744.8,424.9 1746,424.99 1747.2,425.4 1748.4,426.15 1749.6,426.02 1750.8,425.5 1752,425.76 1753.2,426.56 1754.4,425.69 1755.6,424.76 1756.8,424.75 1758,425.71 1759.2,425.83 1760.4,426.26 1761.6,426.39 1762.8,426.85 1764,427.26 1765.2,426.42 1766.4,426.12 1767.6,424.93 1768.8,425.72 1770,426.49 1771.2,427.95 1772.4,427.44 1773.6,427.1 1774.8,427.46 1776,427.93 1777.2,428.08 1778.4,428.43 1779.6,428.96 1780.8,429.16 1782,429.72 1783.2,431.06 1784.4,432.4 1785.6,432.86 1786.8,432.49 1788,432.5 1789.2,432.6 1790.4,433.06 1791.6,433.79 1792.8,435.05 1794,435.49 1795.2,436.02 1796.4,435.7 1797.6,435.81 1798.8,435.58" stroke="#FF2200" stroke-width="5.5"/>
<polyline points="1320,431.97 1321.2,431.21 1322.4,430.88 1323.6,431.28 1324.8,433.06 1326,433.42 1327.2,432.79 1328.4,432.47 1329.6,431.77 1330.8,431.17 1332,429.75 1333.2,429.43 1334.4,429.73 1335.6,430.27 1336.8,429.63 1338,428.99 1339.2,428.71 1340.4,427.82 1341.6,427.72 1342.8,428.4 1344,429.32 1345.2,428.87 1346.4,428.03 1347.6,428.5 1348.8,427.33 1350,428.01 1351.2,427.23 1352.4,427.98 1353.6,427.69 1354.8,428.5 1356,428.97 1357.2,428.54 1358.4,429.32 1359.6,429.96 1360.8,430.48 1362,428.91 1363.2,427.95 1364.4,427.07 1365.6,425.21 1366.8,426.11 1368,426.05 1369.2,427.18 1370.4,427.1 1371.6,427.79 1372.8,425.97 1374,424.42 1375.2,423.92 1376.4,424.21 1377.6,425.89 1378.8,425.53 1380,425.66 1381.2,425.16 1382.4,424.89 1383.6,424.52 1384.8,424.66 1386,424.68 1387.2,425.6 1388.4,426.33 1389.6,424.19 1390.8,423.06 1392,423.3 1393.2,424.37 1394.4,423.81 1395.6,424.55 1396.8,425.01 1398,426.21 1399.2,425.33 1400.4,424.27 1401.6,423.56 1402.8,422.84 1404,423.12 1405.2,423.83 1406.4,424.45 1407.6,426.21 1408.8,426.8 1410,425.83 1411.2,424.4 1412.4,424.63 1413.6,425.18 1414.8,426.3 1416,425.55 1417.2,423.93 1418.4,423.02 1419.6,422.95 1420.8,423.55 1422,424.01 1423.2,424.71 1424.4,424.09 1425.6,424.12 1426.8,423.87 1428,425.23 1429.2,424.91 1430.4,424.29 1431.6,423.16 1432.8,423.94 1434,425.62 1435.2,425.28 1436.4,423.94 1437.6,423.05 1438.8,424.55 1440,425.86 1441.2,426.76 1442.4,424.37 1443.6,423.73 1444.8,423.21 1446,424.9 1447.2,424.17 1448.4,424.2 1449.6,424.74 1450.8,425.86 1452,424.17 1453.2,424.5 1454.4,424.83 1455.6,425.08 1456.8,424.31 1458,424.3 1459.2,424.29 1460.4,424.79 1461.6,425.78 1462.8,426.73 1464,426.27 1465.2,425.51 1466.4,426.05 1467.6,426.49 1468.8,426.06 1470,426.46 1471.2,427.35 1472.4,427.31 1473.6,426.74 1474.8,427.32 1476,427.67 1477.2,426.91 1488.5,420 1490.5,330 1491,262 1492.9,259.9 1494.8,256.99 1496.7,255 1499.5,265.6 1501.4,267.88 1503.3,268.8 1505.17,271.69 1507.03,276.87 1508.9,280 1510.8,287.6 1512.7,286.36 1514.6,284.4 1516.4,274.5 1517.98,275.07 1519.57,276.93 1521.15,279.15 1522.73,278.85 1524.32,279.55 1525.9,281 1527.77,278.94 1529.63,277.02 1531.5,274.5 1533.37,273.66 1535.23,270.59 1537.1,268.8 1538.75,265.63 1540.4,261.43 1542.05,258.29 1543.7,253.8 1546.5,258 1548.4,267.4 1550.3,276.3 1552.15,272.21 1554,269.3 1555.52,267.77 1557.04,266.02 1558.56,263.25 1560.08,260.13 1561.6,259.4 1563.5,263.8 1565.4,269.3 1567.25,275.17 1569.1,281 1570.62,280.96 1572.14,279.78 1573.66,280.22 1575.18,278.85 1576.7,278.7 1578.57,277.08 1580.43,277.36 1582.3,276.3 1583.87,275.28 1585.43,275.85 1587,275.1 1588.57,273.59 1590.13,272.84 1591.7,272.6 1593.4,270.09 1595.1,268 1596.8,264.76 1598.5,261.96 1600.2,259.4 1603,276.3 1604.5,278.47 1606,279.74 1607.5,280.46 1609,281.99 1610.5,283.9 1612.4,287.29 1614.3,293.3 1615,300 1616,405 1618,415.78 1619.2,416.45 1620.4,416.84 1621.6,416.66 1622.8,415.96 1624,416.11 1625.2,416.09 1626.4,416.26 1627.6,417.21 1628.8,418.17 1630,418.51 1631.2,418.4 1632.4,417.3 1633.6,416.04 1634.8,414.78 1636,414.88 1637.2,415.77 1638.4,415.3 1639.6,415.6 1640.8,416.32 1642,417.4 1643.2,417 1644.4,415.36 1645.6,414.78 1646.8,416.14 1648,419.7 1649.2,419.99 1650.4,420.16 1651.6,419.7 1652.8,418.57 1654,417.22 1655.2,415.44 1656.4,417.77 1657.6,418.89 1658.8,420.11 1660,419.1 1661.2,419.01 1662.4,418.47 1663.6,420.17 1664.8,420.34 1666,421.28 1667.2,421.96 1668.4,421.37 1669.6,421.11 1670.8,421.69 1672,421.64 1673.2,421.73 1674.4,420.62 1675.6,420.6 1676.8,421.3 1678,422.08 1679.2,421.14 1680.4,421.32 1681.6,421.28 1682.8,423.93 1684,424.06 1685.2,424.19 1686.4,423.85 1687.6,424.05 1688.8,422.6 1690,422.26 1691.2,420.84 1692.4,421.92 1693.6,422.65 1694.8,423.5 1696,422.97 1697.2,422.92 1698.4,422.49 1699.6,424.54 1700.8,425.35 1702,425.14 1703.2,425.19 1704.4,425.16 1705.6,425.92 1706.8,426.2 1708,425.86 1709.2,425.15 1710.4,424.45 1711.6,425.81 1712.8,425.11 1714,425.82 1715.2,426.75 1716.4,427.14 1717.6,427.78 1718.8,427.01 1720,426.86 1721.2,426.18 1722.4,427.2 1723.6,428.25 1724.8,428.57 1726,427.24 1727.2,426.62 1728.4,426.72 1729.6,427.06 1730.8,426.91 1732,428.32 1733.2,426.62 1734.4,426.88 1735.6,427.07 1736.8,429.39 1738,430.55 1739.2,431.72 1740.4,430.52 1741.6,429.27 1742.8,428.34 1744,429.06 1745.2,429.17 1746.4,430.32 1747.6,431.92 1748.8,431.99 1750,430.91 1751.2,430.22 1752.4,430.34 1753.6,428.91 1754.8,428.13 1756,428.08 1757.2,428.91 1758.4,429.95 1759.6,430.51 1760.8,431.54 1762,431.54 1763.2,432.41 1764.4,432.72 1765.6,433.12 1766.8,433.12 1768,432.74 1769.2,432.82 1770.4,433.36 1771.6,434.31 1772.8,435.87 1774,436.06 1775.2,436.08 1776.4,435.33 1777.6,436.1 1778.8,435.98 1780,435.84 1781.2,436.41 1782.4,435.51 1783.6,436.42 1784.8,435.15 1786,436.14 1787.2,438.09 1788.4,439.16 1789.6,439.93 1790.8,439.04 1792,439.59 1793.2,438.42 1794.4,439.61 1795.6,439.91 1796.8,440.94 1798,440.66" stroke="#FFC800" stroke-width="5.5"/>
<polyline points="1320,426.58 1321.2,427.11 1322.4,427.47 1323.6,427.46 1324.8,426.66 1326,426.16 1327.2,425.58 1328.4,424.6 1329.6,423.79 1330.8,423.77 1332,423.14 1333.2,422.95 1334.4,423.46 1335.6,423.18 1336.8,422.36 1338,421.87 1339.2,421.93 1340.4,422.03 1341.6,422.45 1342.8,423.06 1344,423.94 1345.2,423.2 1346.4,422.34 1347.6,421.88 1348.8,422.53 1350,422.86 1351.2,424.49 1352.4,425.02 1353.6,423.91 1354.8,423.43 1356,423.24 1357.2,423.42 1358.4,423.93 1359.6,422.07 1360.8,422.49 1362,423.09 1363.2,423.3 1364.4,423 1365.6,423.03 1366.8,422.9 1368,424.39 1369.2,423.77 1370.4,423.1 1371.6,422.53 1372.8,421.39 1374,420.36 1375.2,420.83 1376.4,421.48 1377.6,421.61 1378.8,419.85 1380,419.95 1381.2,420.57 1382.4,420.75 1383.6,419.86 1384.8,420.6 1386,419.65 1387.2,419.3 1388.4,419.28 1389.6,419.35 1390.8,420.22 1392,420.35 1393.2,418.86 1394.4,417.95 1395.6,418.68 1396.8,420.13 1398,420.38 1399.2,419.26 1400.4,419.71 1401.6,419.79 1402.8,419.77 1404,420.66 1405.2,421.09 1406.4,419.74 1407.6,420.21 1408.8,420.09 1410,419.75 1411.2,418.79 1412.4,418.33 1413.6,418.79 1414.8,420.35 1416,420.38 1417.2,419.73 1418.4,418.22 1419.6,418.15 1420.8,418.82 1422,419.35 1423.2,418.78 1424.4,418.63 1425.6,418.47 1426.8,417.82 1428,417.03 1429.2,417.14 1430.4,417.15 1431.6,417.26 1432.8,417.65 1434,417.74 1435.2,417.99 1436.4,418.7 1437.6,419.02 1438.8,417.57 1440,417.02 1441.2,417.91 1442.4,419.3 1443.6,419.54 1444.8,418.34 1446,418.42 1447.2,418.79 1448.4,420.25 1449.6,419.53 1450.8,418.83 1452,418.46 1453.2,420.05 1454.4,419.45 1455.6,418.87 1456.8,419.17 1458,419.74 1459.2,419.9 1460.4,419.72 1461.6,419.06 1462.8,418.66 1464,417.71 1465.2,417.08 1466.4,418.09 1467.6,419.69 1468.8,420.24 1470,420.54 1471.2,419.85 1472.4,419.41 1473.6,417.74 1474.8,417.97 1476,418.77 1477.2,419.49 1492.5,420 1494,340 1494.8,315.9 1497.6,302.7 1499.5,308.72 1501.4,314 1503.3,317.52 1505.2,321.5 1507.07,327.74 1508.93,331.82 1510.8,336.5 1512.7,335.2 1514.6,332.8 1516.47,328.9 1518.33,325.07 1520.2,321.5 1521.7,322.13 1523.2,322.82 1524.7,326.2 1526.2,326.74 1527.7,328.1 1529.22,326.15 1530.74,325.29 1532.26,324.61 1533.78,322.89 1535.3,321.5 1536.8,318.98 1538.3,314.18 1539.8,311.89 1541.3,308.55 1542.8,305.5 1544.67,309.17 1546.53,311.48 1548.4,314 1550.27,318.78 1552.13,323.52 1554,327.1 1555.58,325.3 1557.17,321.81 1558.75,321.41 1560.33,318.76 1561.92,316.11 1563.5,314 1565.37,318.03 1567.23,322.54 1569.1,325.3 1571.9,310.2 1574.8,329 1576.37,329.5 1577.93,328.96 1579.5,329.36 1581.07,328.53 1582.63,329.3 1584.2,329 1585.7,327.49 1587.2,326.25 1588.7,323.41 1590.2,322.11 1591.7,321.5 1593.2,321.83 1594.7,318.72 1596.2,317.47 1597.7,316.55 1599.2,314.9 1601.1,321.96 1603,329.52 1604.9,336.5 1606.47,336.08 1608.03,337.77 1609.6,338.4 1611.17,337.95 1612.73,338.77 1614.3,340.3 1615.5,340 1616,405 1618,410.27 1619.2,409.7 1620.4,409.44 1621.6,409.95 1622.8,409.41 1624,409.22 1625.2,409.69 1626.4,410.43 1627.6,411.72 1628.8,412.38 1630,412.49 1631.2,412.44 1632.4,412.92 1633.6,412.12 1634.8,410.65 1636,410.55 1637.2,410.74 1638.4,411.65 1639.6,411.77 1640.8,412.93 1642,413.46 1643.2,413.85 1644.4,413.1 1645.6,412.96 1646.8,413.31 1648,412.98 1649.2,413.66 1650.4,413.59 1651.6,413.63 1652.8,413.5 1654,414.15 1655.2,414.95 1656.4,414.16 1657.6,414.42 1658.8,413.41 1660,412.73 1661.2,411.83 1662.4,413.21 1663.6,412.53 1664.8,413.1 1666,413.57 1667.2,414.73 1668.4,413.09 1669.6,413.02 1670.8,415.21 1672,415.26 1673.2,414.32 1674.4,413.75 1675.6,415.4 1676.8,415.33 1678,414.85 1679.2,414.22 1680.4,413.99 1681.6,415.01 1682.8,415.58 1684,415.6 1685.2,415.63 1686.4,415.99 1687.6,416.54 1688.8,415.77 1690,415.89 1691.2,415.76 1692.4,416.32 1693.6,416.85 1694.8,417.76 1696,418.24 1697.2,418.87 1698.4,419.04 1699.6,419.22 1700.8,419.29 1702,418.83 1703.2,418.54 1704.4,418.99 1705.6,420.29 1706.8,421.98 1708,421.47 1709.2,419.44 1710.4,418.62 1711.6,419.17 1712.8,420.49 1714,421.25 1715.2,419.87 1716.4,418.32 1717.6,417.64 1718.8,419.21 1720,419.82 1721.2,419.97 1722.4,418.67 1723.6,419.05 1724.8,419.35 1726,420.43 1727.2,420.19 1728.4,420.03 1729.6,420.5 1730.8,420.76 1732,420.2 1733.2,419.87 1734.4,420.15 1735.6,421.54 1736.8,421.95 1738,422.05 1739.2,421.2 1740.4,421.35 1741.6,422.09 1742.8,422.81 1744,422.68 1745.2,422.65 1746.4,423.26 1747.6,424.29 1748.8,424.72 1750,425.2 1751.2,425.91 1752.4,426.64 1753.6,426.46 1754.8,426.55 1756,425.34 1757.2,424.7 1758.4,424.17 1759.6,425.18 1760.8,424.7 1762,424.53 1763.2,425.1 1764.4,425.19 1765.6,425.88 1766.8,426.45 1768,427.58 1769.2,428.52 1770.4,428.33 1771.6,426.89 1772.8,426.01 1774,426.19 1775.2,428.18 1776.4,428.73 1777.6,427.95 1778.8,428.27 1780,428.72 1781.2,429.15 1782.4,429.32 1783.6,430.18 1784.8,430.13 1786,430.95 1787.2,430.5 1788.4,431.04 1789.6,432.2 1790.8,432.94 1792,433.89 1793.2,433.75 1794.4,434.55 1795.6,433.89 1796.8,434.27 1798,434.67" stroke="#11D011" stroke-width="5.6"/>
<polyline points="1320,429.74 1321.2,429.24 1322.4,428.75 1323.6,427.78 1324.8,427.66 1326,428.07 1327.2,428.87 1328.4,429.88 1329.6,430.76 1330.8,430.52 1332,429.56 1333.2,430.21 1334.4,430.06 1335.6,428.91 1336.8,428.08 1338,428.28 1339.2,428.27 1340.4,427.52 1341.6,426.28 1342.8,426.58 1344,426.25 1345.2,426.5 1346.4,427.32 1347.6,426.56 1348.8,427.93 1350,428.53 1351.2,428.51 1352.4,427.16 1353.6,427.21 1354.8,426.91 1356,426.8 1357.2,426.3 1358.4,426.04 1359.6,425.74 1360.8,425.44 1362,425.55 1363.2,425.83 1364.4,425.24 1365.6,425.59 1366.8,425.56 1368,425.08 1369.2,424.08 1370.4,424.6 1371.6,424.55 1372.8,425.34 1374,424.63 1375.2,424.22 1376.4,423.18 1377.6,422.86 1378.8,422.86 1380,422.67 1381.2,422.03 1382.4,423.48 1383.6,424.67 1384.8,424.26 1386,423.66 1387.2,422.48 1388.4,421.95 1389.6,423.54 1390.8,424.23 1392,423.78 1393.2,421.94 1394.4,421.47 1395.6,421.68 1396.8,422.69 1398,422.72 1399.2,422.63 1400.4,421.3 1401.6,420.4 1402.8,420.22 1404,421.09 1405.2,421.57 1406.4,421.73 1407.6,421.22 1408.8,422.43 1410,423.04 1411.2,423.69 1412.4,423.33 1413.6,423.96 1414.8,423.64 1416,422.64 1417.2,421.79 1418.4,422.41 1419.6,423.86 1420.8,424.62 1422,424.66 1423.2,423.24 1424.4,421.92 1425.6,421.69 1426.8,422.85 1428,423.43 1429.2,422.31 1430.4,422.04 1431.6,421.95 1432.8,422.88 1434,422.99 1435.2,422.11 1436.4,421.38 1437.6,422.7 1438.8,423.06 1440,421.62 1441.2,421.06 1442.4,421.64 1443.6,422.65 1444.8,423.21 1446,423.47 1447.2,423.89 1448.4,424.48 1449.6,425.35 1450.8,425.73 1452,425.87 1453.2,425.31 1454.4,424.4 1455.6,424.1 1456.8,424.2 1458,424.42 1459.2,423.99 1460.4,424.44 1461.6,424.47 1462.8,424.93 1464,424.7 1465.2,424.53 1466.4,423.96 1467.6,423.55 1468.8,424.17 1470,424.03 1471.2,424.65 1472.4,425.36 1473.6,426.38 1474.8,425.47 1476,424.78 1477.2,424.11 1493.5,421 1495.2,380 1495.7,359.1 1497.6,361.11 1499.5,362.9 1501.4,369.12 1503.3,374.03 1505.2,379.8 1507.05,367.59 1508.9,355.4 1510.47,362.14 1512.03,370.74 1513.6,377.9 1515.17,370.78 1516.73,362.03 1518.3,355.4 1519.82,353.02 1521.34,349.43 1522.86,345.99 1524.38,344.19 1525.9,340.3 1527.47,342.65 1529.03,346.02 1530.6,346.5 1532.17,348.99 1533.73,351.26 1535.3,353.5 1536.87,351.76 1538.43,353.6 1540,352.46 1541.57,351.94 1543.13,352.14 1544.7,351.6 1546.2,352.51 1547.7,353 1549.2,353.27 1550.7,354.9 1552.2,355.4 1553.7,353.21 1555.2,351.16 1556.7,348.58 1558.2,345.07 1559.7,344.1 1561.6,341.39 1563.5,338.43 1565.4,336.5 1566.9,337.42 1568.4,340.56 1569.9,343.79 1571.4,344.57 1572.9,347.8 1574.47,348.32 1576.03,350.52 1577.6,350.06 1579.17,353.15 1580.73,354.39 1582.3,355.4 1583.8,351.22 1585.3,349.66 1586.8,346 1588.3,342.42 1589.8,340.3 1591.37,341.33 1592.93,338.72 1594.5,338.07 1596.07,338.64 1597.63,338.63 1599.2,337.5 1600.72,340.7 1602.24,344.77 1603.76,349.08 1605.28,352.04 1606.8,355.4 1608.65,364.41 1610.5,372.3 1612.4,366.64 1614.3,362.9 1615.8,375 1617,404 1623.7,411.8 1626,414.09 1627.2,413.51 1628.4,413.63 1629.6,413.02 1630.8,414.58 1632,415.25 1633.2,415.1 1634.4,414.42 1635.6,414.05 1636.8,413.75 1638,413.2 1639.2,414.82 1640.4,415.92 1641.6,416.15 1642.8,415.78 1644,415.66 1645.2,415.89 1646.4,416.07 1647.6,417.03 1648.8,417.2 1650,416.56 1651.2,416.53 1652.4,417.65 1653.6,418.31 1654.8,418.03 1656,418.48 1657.2,417.9 1658.4,418.52 1659.6,418.28 1660.8,419.36 1662,419.87 1663.2,419.72 1664.4,419.03 1665.6,419.16 1666.8,419.6 1668,418.85 1669.2,419.11 1670.4,419.64 1671.6,420.22 1672.8,420.42 1674,420.8 1675.2,420.75 1676.4,421.03 1677.6,420.95 1678.8,421.06 1680,420.96 1681.2,422.12 1682.4,421.56 1683.6,421.61 1684.8,421.16 1686,421.52 1687.2,421.05 1688.4,421.63 1689.6,421.93 1690.8,422.84 1692,422.52 1693.2,422.14 1694.4,421.33 1695.6,420.92 1696.8,421.36 1698,421.69 1699.2,421.59 1700.4,421.49 1701.6,421.04 1702.8,421.49 1704,422.68 1705.2,423.35 1706.4,423.56 1707.6,423.85 1708.8,423.84 1710,423.31 1711.2,423.89 1712.4,425.04 1713.6,425.23 1714.8,425.23 1716,426.33 1717.2,426.56 1718.4,424.75 1719.6,424.88 1720.8,426.08 1722,427.31 1723.2,427.16 1724.4,427.27 1725.6,426.86 1726.8,427.09 1728,426.83 1729.2,426.85 1730.4,427.47 1731.6,427.58 1732.8,427.16 1734,426.81 1735.2,427.08 1736.4,429.35 1737.6,429.82 1738.8,428.49 1740,426.6 1741.2,426.06 1742.4,426.66 1743.6,428.06 1744.8,428.06 1746,427.47 1747.2,427.86 1748.4,428.22 1749.6,428.03 1750.8,428.26 1752,429.6 1753.2,430.73 1754.4,430.3 1755.6,429.18 1756.8,428.69 1758,428.31 1759.2,429.59 1760.4,429.33 1761.6,429.59 1762.8,429.59 1764,429.23 1765.2,427.78 1766.4,427.75 1767.6,429.24 1768.8,430.47 1770,430.32 1771.2,429.98 1772.4,430.3 1773.6,429.95 1774.8,430.58 1776,430.56 1777.2,429.95 1778.4,429.4 1779.6,429.77 1780.8,431.64 1782,432.06 1783.2,432.24 1784.4,432.55 1785.6,432.88 1786.8,432.66 1788,433.2 1789.2,434.12 1790.4,434.45 1791.6,434.91 1792.8,435.65 1794,436.55 1795.2,437.27 1796.4,437.7 1797.6,437.73 1798.8,437.85" stroke="#00BBFF" stroke-width="6"/>
</g>
<rect x="1320" y="52.8" width="479.4000000000001" height="385.0" fill="none" stroke="#000" stroke-width="2.2"/>
<line x1="1320" y1="428.6" x2="1326.5" y2="428.6" stroke="#000" stroke-width="2.2"/>
<line x1="1320" y1="343.1" x2="1326.5" y2="343.1" stroke="#000" stroke-width="2.2"/>
<line x1="1320" y1="257.6" x2="1326.5" y2="257.6" stroke="#000" stroke-width="2.2"/>
<line x1="1320" y1="172.1" x2="1326.5" y2="172.1" stroke="#000" stroke-width="2.2"/>
<line x1="1320" y1="86.6" x2="1326.5" y2="86.6" stroke="#000" stroke-width="2.2"/>
<line x1="1439.85" y1="437.8" x2="1439.85" y2="431.3" stroke="#000" stroke-width="2.2"/>
<line x1="1559.7" y1="437.8" x2="1559.7" y2="431.3" stroke="#000" stroke-width="2.2"/>
<line x1="1679.55" y1="437.8" x2="1679.55" y2="431.3" stroke="#000" stroke-width="2.2"/>
<text x="1310.2" y="434.4" font-size="24.4" fill="#000" text-anchor="end" font-weight="bold" >0</text>
<text x="1310.2" y="348.9" font-size="24.4" fill="#000" text-anchor="end" font-weight="bold" >5</text>
<text x="1310.2" y="263.4" font-size="24.4" fill="#000" text-anchor="end" font-weight="bold" >10</text>
<text x="1310.2" y="177.9" font-size="24.4" fill="#000" text-anchor="end" font-weight="bold" >15</text>
<text x="1310.2" y="92.4" font-size="24.4" fill="#000" text-anchor="end" font-weight="bold" >20</text>
<text x="1319.7" y="465" font-size="24.4" fill="#000" text-anchor="middle" font-weight="bold" >0</text>
<text x="1439.55" y="465" font-size="24.4" fill="#000" text-anchor="middle" font-weight="bold" >5</text>
<text x="1559.4" y="465" font-size="24.4" fill="#000" text-anchor="middle" font-weight="bold" >10</text>
<text x="1679.25" y="465" font-size="24.4" fill="#000" text-anchor="middle" font-weight="bold" >15</text>
<text x="1799.1" y="465" font-size="24.4" fill="#000" text-anchor="middle" font-weight="bold" >20</text>
<text x="1559" y="499.5" font-size="39" fill="#000" text-anchor="middle" font-weight="bold" >distance (µm)</text>
<text transform="translate(1271,249.5) rotate(-90)" font-size="39.5" font-weight="bold" text-anchor="middle">thickness (nm)</text>
<line x1="1334.8" y1="70.9" x2="1379.2" y2="70.9" stroke="#000" stroke-width="5.5" stroke-linecap="round"/>
<text x="1386.5" y="77.4" font-size="22.6" fill="#000" text-anchor="start" font-weight="bold" >as-fabricated</text>
<line x1="1334.8" y1="99.5" x2="1379.2" y2="99.5" stroke="#FF2200" stroke-width="5.5" stroke-linecap="round"/>
<text x="1386.5" y="106" font-size="22.6" fill="#FF2200" text-anchor="start" font-weight="bold" >8 cycles</text>
<line x1="1638.8" y1="70.9" x2="1684.2" y2="70.9" stroke="#FFC800" stroke-width="5.5" stroke-linecap="round"/>
<text x="1691.5" y="77.4" font-size="22.6" fill="#FFC800" text-anchor="start" font-weight="bold" >12 cycles</text>
<line x1="1638.8" y1="99.5" x2="1684.2" y2="99.5" stroke="#11D011" stroke-width="5.5" stroke-linecap="round"/>
<text x="1691.5" y="106" font-size="22.6" fill="#11D011" text-anchor="start" font-weight="bold" >16 cycles</text>
<line x1="1638.8" y1="128.2" x2="1684.2" y2="128.2" stroke="#00BBFF" stroke-width="5.5" stroke-linecap="round"/>
<text x="1691.5" y="134.7" font-size="22.6" fill="#00BBFF" text-anchor="start" font-weight="bold" >19 cycles</text>
<rect x="108.3" y="588.8" width="480.2" height="386.9000000000001" fill="none" stroke="#000" stroke-width="2.2"/>
<line x1="108.3" y1="956.8" x2="115.3" y2="956.8" stroke="#000" stroke-width="2.2"/>
<line x1="108.3" y1="864.8" x2="115.3" y2="864.8" stroke="#000" stroke-width="2.2"/>
<line x1="108.3" y1="772.8" x2="115.3" y2="772.8" stroke="#000" stroke-width="2.2"/>
<line x1="108.3" y1="680.8" x2="115.3" y2="680.8" stroke="#000" stroke-width="2.2"/>
<line x1="108.3" y1="588.8" x2="115.3" y2="588.8" stroke="#000" stroke-width="2.2"/>
<line x1="108.3" y1="910.8" x2="112.3" y2="910.8" stroke="#000" stroke-width="2.2"/>
<line x1="108.3" y1="818.8" x2="112.3" y2="818.8" stroke="#000" stroke-width="2.2"/>
<line x1="108.3" y1="726.8" x2="112.3" y2="726.8" stroke="#000" stroke-width="2.2"/>
<line x1="108.3" y1="634.8" x2="112.3" y2="634.8" stroke="#000" stroke-width="2.2"/>
<line x1="147" y1="975.7" x2="147" y2="968.7" stroke="#000" stroke-width="2.2"/>
<line x1="227.2" y1="975.7" x2="227.2" y2="968.7" stroke="#000" stroke-width="2.2"/>
<line x1="307.4" y1="975.7" x2="307.4" y2="968.7" stroke="#000" stroke-width="2.2"/>
<line x1="387.6" y1="975.7" x2="387.6" y2="968.7" stroke="#000" stroke-width="2.2"/>
<line x1="467.8" y1="975.7" x2="467.8" y2="968.7" stroke="#000" stroke-width="2.2"/>
<line x1="548" y1="975.7" x2="548" y2="968.7" stroke="#000" stroke-width="2.2"/>
<text x="98" y="963.6" font-size="24.4" fill="#000" text-anchor="end" font-weight="bold" >0</text>
<text x="98" y="871.6" font-size="24.4" fill="#000" text-anchor="end" font-weight="bold" >5</text>
<text x="98" y="779.6" font-size="24.4" fill="#000" text-anchor="end" font-weight="bold" >10</text>
<text x="98" y="687.6" font-size="24.4" fill="#000" text-anchor="end" font-weight="bold" >15</text>
<text x="98" y="595.6" font-size="24.4" fill="#000" text-anchor="end" font-weight="bold" >20</text>
<text x="147" y="1002.7" font-size="24.4" fill="#000" text-anchor="middle" font-weight="bold" >0</text>
<text x="227.2" y="1002.7" font-size="24.4" fill="#000" text-anchor="middle" font-weight="bold" >4</text>
<text x="307.4" y="1002.7" font-size="24.4" fill="#000" text-anchor="middle" font-weight="bold" >8</text>
<text x="387.6" y="1002.7" font-size="24.4" fill="#000" text-anchor="middle" font-weight="bold" >12</text>
<text x="467.8" y="1002.7" font-size="24.4" fill="#000" text-anchor="middle" font-weight="bold" >16</text>
<text x="548" y="1002.7" font-size="24.4" fill="#000" text-anchor="middle" font-weight="bold" >20</text>
<text x="347.8" y="1039.5" font-size="38.6" fill="#000" text-anchor="middle" font-weight="bold" >recess cycle</text>
<text transform="translate(58,782.5) rotate(-90)" font-size="38.2" font-weight="bold" text-anchor="middle">thickness (nm)</text>
<line x1="147.0" y1="651.3599999999999" x2="527.95" y2="878.5999999999999" stroke="#FF0000" stroke-width="2.7" stroke-dasharray="11,15.3" stroke-linecap="round"/>
<rect x="140.6" y="646.3" width="13.4" height="13.4" fill="#FF0000"/>
<rect x="300.2" y="735" width="13.4" height="13.4" fill="#FF0000"/>
<rect x="380.9" y="789.9" width="13.4" height="13.4" fill="#FF0000"/>
<rect x="460.6" y="839.9" width="13.4" height="13.4" fill="#FF0000"/>
<rect x="520.8" y="870.2" width="13.4" height="13.4" fill="#FF0000"/>
<text x="143.5" y="885" font-size="43.5" fill="#FF0000" text-anchor="start" font-weight="bold" >etch rate</text>
<text x="142.5" y="937.7" font-size="43.5" fill="#FF0000" text-anchor="start" font-weight="bold" >0.65 nm/cycle</text>
<rect x="716" y="588.8" width="481.5" height="385.5" fill="none" stroke="#000" stroke-width="2.2"/>
<line x1="716" y1="974.1" x2="723" y2="974.1" stroke="#000" stroke-width="2.2"/>
<line x1="716" y1="896.7" x2="723" y2="896.7" stroke="#000" stroke-width="2.2"/>
<line x1="716" y1="819.3" x2="723" y2="819.3" stroke="#000" stroke-width="2.2"/>
<line x1="716" y1="741.9" x2="723" y2="741.9" stroke="#000" stroke-width="2.2"/>
<line x1="716" y1="664.5" x2="723" y2="664.5" stroke="#000" stroke-width="2.2"/>
<line x1="716" y1="587.1" x2="723" y2="587.1" stroke="#000" stroke-width="2.2"/>
<line x1="755.3" y1="974.3" x2="755.3" y2="967.3" stroke="#000" stroke-width="2.2"/>
<line x1="835.42" y1="974.3" x2="835.42" y2="967.3" stroke="#000" stroke-width="2.2"/>
<line x1="915.54" y1="974.3" x2="915.54" y2="967.3" stroke="#000" stroke-width="2.2"/>
<line x1="995.66" y1="974.3" x2="995.66" y2="967.3" stroke="#000" stroke-width="2.2"/>
<line x1="1075.78" y1="974.3" x2="1075.78" y2="967.3" stroke="#000" stroke-width="2.2"/>
<line x1="1155.9" y1="974.3" x2="1155.9" y2="967.3" stroke="#000" stroke-width="2.2"/>
<text x="706.5" y="980.9" font-size="24.4" fill="#000" text-anchor="end" font-weight="bold" >4.5</text>
<text x="706.5" y="903.5" font-size="24.4" fill="#000" text-anchor="end" font-weight="bold" >5.0</text>
<text x="706.5" y="826.1" font-size="24.4" fill="#000" text-anchor="end" font-weight="bold" >5.5</text>
<text x="706.5" y="748.7" font-size="24.4" fill="#000" text-anchor="end" font-weight="bold" >6.0</text>
<text x="706.5" y="671.3" font-size="24.4" fill="#000" text-anchor="end" font-weight="bold" >6.5</text>
<text x="706.5" y="593.9" font-size="24.4" fill="#000" text-anchor="end" font-weight="bold" >7.0</text>
<text x="755.3" y="1002.3" font-size="24.4" fill="#000" text-anchor="middle" font-weight="bold" >0</text>
<text x="835.42" y="1002.3" font-size="24.4" fill="#000" text-anchor="middle" font-weight="bold" >4</text>
<text x="915.54" y="1002.3" font-size="24.4" fill="#000" text-anchor="middle" font-weight="bold" >8</text>
<text x="995.66" y="1002.3" font-size="24.4" fill="#000" text-anchor="middle" font-weight="bold" >12</text>
<text x="1075.78" y="1002.3" font-size="24.4" fill="#000" text-anchor="middle" font-weight="bold" >16</text>
<text x="1155.9" y="1002.3" font-size="24.4" fill="#000" text-anchor="middle" font-weight="bold" >20</text>
<text x="955.3" y="1035.5" font-size="38.6" fill="#000" text-anchor="middle" font-weight="bold" >recess cycle</text>
<text transform="translate(658,782) rotate(-90)" font-size="38.2" font-weight="bold" text-anchor="middle">width (µm)</text>
<polyline points="755.3,695.03 758.5,700.56 761.7,705.94 764.89,711.15 768.09,716.22 771.29,721.14 774.49,725.91 777.69,730.55 780.88,735.05 784.08,739.42 787.28,743.66 790.48,747.79 793.68,751.79 796.87,755.67 800.07,759.44 803.27,763.1 806.47,766.66 809.67,770.11 812.87,773.46 816.06,776.72 819.26,779.88 822.46,782.95 825.66,785.93 828.86,788.82 832.05,791.63 835.25,794.35 838.45,797 841.65,799.57 844.85,802.07 848.04,804.49 851.24,806.84 854.44,809.13 857.64,811.35 860.84,813.5 864.03,815.59 867.23,817.62 870.43,819.59 873.63,821.51 876.83,823.36 880.02,825.17 883.22,826.92 886.42,828.62 889.62,830.27 892.82,831.88 896.01,833.43 899.21,834.95 902.41,836.41 905.61,837.84 908.81,839.22 912.01,840.57 915.2,841.87 918.4,843.14 921.6,844.37 924.8,845.56 928,846.72 931.19,847.85 934.39,848.94 937.59,850 940.79,851.03 943.99,852.03 947.18,853 950.38,853.94 953.58,854.86 956.78,855.75 959.98,856.61 963.17,857.45 966.37,858.27 969.57,859.06 972.77,859.82 975.97,860.57 979.16,861.29 982.36,861.99 985.56,862.67 988.76,863.34 991.96,863.98 995.16,864.6 998.35,865.21 1001.55,865.8 1004.75,866.37 1007.95,866.92 1011.15,867.46 1014.34,867.99 1017.54,868.49 1020.74,868.99 1023.94,869.46 1027.14,869.93 1030.33,870.38 1033.53,870.82 1036.73,871.24 1039.93,871.66 1043.13,872.06 1046.32,872.45 1049.52,872.83 1052.72,873.19 1055.92,873.55 1059.12,873.89 1062.31,874.23 1065.51,874.56 1068.71,874.87 1071.91,875.18 1075.11,875.48 1078.3,875.77 1081.5,876.05 1084.7,876.32 1087.9,876.59 1091.1,876.85 1094.3,877.1 1097.49,877.34 1100.69,877.58 1103.89,877.8 1107.09,878.03 1110.29,878.24 1113.48,878.45 1116.68,878.66 1119.88,878.85 1123.08,879.05 1126.28,879.23 1129.47,879.41 1132.67,879.59 1135.87,879.76" fill="none" stroke="#FF0000" stroke-width="2.7" stroke-dasharray="11,14.3" stroke-linecap="round"/>
<rect x="748.2" y="689.3" width="13.4" height="13.4" fill="#FF0000"/>
<rect x="908.9" y="835.8" width="13.4" height="13.4" fill="#FF0000"/>
<rect x="988.8" y="855" width="13.4" height="13.4" fill="#FF0000"/>
<rect x="1068.6" y="865.9" width="13.4" height="13.4" fill="#FF0000"/>
<rect x="1128.7" y="876.6" width="13.4" height="13.4" fill="#FF0000"/>
<rect x="1316" y="588.8" width="480.70000000000005" height="385.70000000000005" fill="none" stroke="#000" stroke-width="2.2"/>
<line x1="1316" y1="679.3" x2="1323" y2="679.3" stroke="#000" stroke-width="2.2"/>
<line x1="1316" y1="775.3" x2="1323" y2="775.3" stroke="#000" stroke-width="2.2"/>
<line x1="1316" y1="872.3" x2="1323" y2="872.3" stroke="#000" stroke-width="2.2"/>
<line x1="1316" y1="968.1" x2="1323" y2="968.1" stroke="#000" stroke-width="2.2"/>
<line x1="1315.8" y1="974.5" x2="1315.8" y2="967.5" stroke="#000" stroke-width="2.2"/>
<line x1="1375.86" y1="974.5" x2="1375.86" y2="967.5" stroke="#000" stroke-width="2.2"/>
<line x1="1435.92" y1="974.5" x2="1435.92" y2="967.5" stroke="#000" stroke-width="2.2"/>
<line x1="1495.98" y1="974.5" x2="1495.98" y2="967.5" stroke="#000" stroke-width="2.2"/>
<line x1="1556.04" y1="974.5" x2="1556.04" y2="967.5" stroke="#000" stroke-width="2.2"/>
<line x1="1616.1" y1="974.5" x2="1616.1" y2="967.5" stroke="#000" stroke-width="2.2"/>
<line x1="1676.16" y1="974.5" x2="1676.16" y2="967.5" stroke="#000" stroke-width="2.2"/>
<line x1="1736.22" y1="974.5" x2="1736.22" y2="967.5" stroke="#000" stroke-width="2.2"/>
<line x1="1796.28" y1="974.5" x2="1796.28" y2="967.5" stroke="#000" stroke-width="2.2"/>
<line x1="1345.83" y1="974.5" x2="1345.83" y2="970.5" stroke="#000" stroke-width="2.2"/>
<line x1="1405.89" y1="974.5" x2="1405.89" y2="970.5" stroke="#000" stroke-width="2.2"/>
<line x1="1465.95" y1="974.5" x2="1465.95" y2="970.5" stroke="#000" stroke-width="2.2"/>
<line x1="1526.01" y1="974.5" x2="1526.01" y2="970.5" stroke="#000" stroke-width="2.2"/>
<line x1="1586.07" y1="974.5" x2="1586.07" y2="970.5" stroke="#000" stroke-width="2.2"/>
<line x1="1646.13" y1="974.5" x2="1646.13" y2="970.5" stroke="#000" stroke-width="2.2"/>
<line x1="1706.19" y1="974.5" x2="1706.19" y2="970.5" stroke="#000" stroke-width="2.2"/>
<line x1="1766.25" y1="974.5" x2="1766.25" y2="970.5" stroke="#000" stroke-width="2.2"/>
<text x="1315.8" y="1002.5" font-size="24.4" fill="#000" text-anchor="middle" font-weight="bold" >300</text>
<text x="1375.86" y="1002.5" font-size="24.4" fill="#000" text-anchor="middle" font-weight="bold" >320</text>
<text x="1435.92" y="1002.5" font-size="24.4" fill="#000" text-anchor="middle" font-weight="bold" >340</text>
<text x="1495.98" y="1002.5" font-size="24.4" fill="#000" text-anchor="middle" font-weight="bold" >360</text>
<text x="1556.04" y="1002.5" font-size="24.4" fill="#000" text-anchor="middle" font-weight="bold" >380</text>
<text x="1616.1" y="1002.5" font-size="24.4" fill="#000" text-anchor="middle" font-weight="bold" >400</text>
<text x="1676.16" y="1002.5" font-size="24.4" fill="#000" text-anchor="middle" font-weight="bold" >420</text>
<text x="1736.22" y="1002.5" font-size="24.4" fill="#000" text-anchor="middle" font-weight="bold" >440</text>
<text x="1796.28" y="1002.5" font-size="24.4" fill="#000" text-anchor="middle" font-weight="bold" >460</text>
<text x="1405" y="1049.8" font-size="32.5" font-weight="bold">Raman shift</text>
<text x="1600.5" y="1050.5" font-size="38.5" font-weight="bold">(</text>
<text x="1613" y="1049.8" font-size="32.5" font-weight="bold">cm</text>
<text x="1662" y="1031" font-size="31" font-weight="bold">-1</text>
<text x="1692" y="1051.5" font-size="38.5" font-weight="bold">)</text>
<text transform="translate(1288.3,768.4) rotate(-90)" font-size="36.3" font-weight="bold" text-anchor="middle">intensity (a.u.)</text>
<text x="1360.2" y="644" font-size="28.5" font-weight="bold">2LA(M)</text>
<text x="1465.5" y="644" font-size="28.5" font-weight="bold">+ E</text>
<text x="1511.5" y="634" font-size="19.5" font-weight="bold">1</text>
<text x="1521.5" y="649" font-size="19.5" font-weight="bold">2g</text>
<text x="1667" y="845" font-size="27.5" font-weight="bold">A<tspan font-size="19" dy="6">1g</tspan></text>
<clipPath id="clipf"><rect x="1317" y="590" width="478.5" height="383.5"/></clipPath>
<g clip-path="url(#clipf)" fill="none" stroke-linejoin="round">
<polyline points="1316.55,946.4 1317.3,947.12 1318.05,947.81 1318.8,948.47 1319.55,949.09 1320.3,949.67 1321.06,950.19 1321.81,950.66 1322.56,951.06 1323.31,951.45 1324.06,951.84 1324.81,952.22 1325.56,952.58 1326.31,952.92 1327.06,953.21 1327.81,953.45 1328.56,953.64 1329.31,953.76 1330.06,953.8 1330.82,953.78 1331.57,953.72 1332.32,953.63 1333.07,953.52 1333.82,953.37 1334.57,953.21 1335.32,953.03 1336.07,952.84 1336.82,952.64 1337.57,952.4 1338.32,952.06 1339.07,951.64 1339.82,951.15 1340.57,950.62 1341.33,950.05 1342.08,949.48 1342.83,948.91 1343.58,948.37 1344.33,947.87 1345.08,947.43 1345.83,946.99 1346.58,946.56 1347.33,946.12 1348.08,945.69 1348.83,945.27 1349.58,944.87 1350.33,944.47 1351.09,944.1 1351.84,943.76 1352.59,943.44 1353.34,943.15 1354.09,942.9 1354.84,942.68 1355.59,942.48 1356.34,942.29 1357.09,942.12 1357.84,941.95 1358.59,941.79 1359.34,941.62 1360.09,941.45 1360.85,941.26 1361.6,941.09 1362.35,940.93 1363.1,940.77 1363.85,940.61 1364.6,940.44 1365.35,940.25 1366.1,940.03 1366.85,939.77 1367.6,939.47 1368.35,939.03 1369.1,938.46 1369.85,937.78 1370.6,937.02 1371.36,936.19 1372.11,935.33 1372.86,934.45 1373.61,933.58 1374.36,932.73 1375.11,931.83 1375.86,930.85 1376.61,929.83 1377.36,928.78 1378.11,927.73 1378.86,926.71 1379.61,925.75 1380.36,924.87 1381.12,924.09 1381.87,923.3 1382.62,922.48 1383.37,921.65 1384.12,920.84 1384.87,920.06 1385.62,919.33 1386.37,918.67 1387.12,918.11 1387.87,917.65 1388.62,917.31 1389.37,917.13 1390.12,917.11 1390.88,917.22 1391.63,917.43 1392.38,917.73 1393.13,918.1 1393.88,918.53 1394.63,919 1395.38,919.5 1396.13,920 1396.88,920.5 1397.63,921.12 1398.38,921.89 1399.13,922.76 1399.88,923.67 1400.63,924.59 1401.39,925.47 1402.14,926.25 1402.89,926.9 1403.64,927.37 1404.39,927.81 1405.14,928.24 1405.89,928.65 1406.64,929.03 1407.39,929.36 1408.14,929.64 1408.89,929.84 1409.64,929.96 1410.39,929.99 1411.15,929.99 1411.9,929.99 1412.65,929.99 1413.4,929.99 1414.15,929.98 1414.9,929.98 1415.65,929.98 1416.4,929.97 1417.15,929.95 1417.9,929.78 1418.65,929.44 1419.4,928.97 1420.15,928.38 1420.9,927.71 1421.66,926.98 1422.41,926.22 1423.16,925.45 1423.91,924.7 1424.66,923.88 1425.41,922.96 1426.16,921.94 1426.91,920.85 1427.66,919.7 1428.41,918.49 1429.16,917.25 1429.91,915.98 1430.66,914.7 1431.42,913.36 1432.17,911.97 1432.92,910.52 1433.67,909.01 1434.42,907.46 1435.17,905.85 1435.92,904.21 1436.67,902.52 1437.42,900.81 1438.17,899.1 1438.92,897.37 1439.67,895.62 1440.42,893.8 1441.18,891.9 1441.93,889.88 1442.68,887.73 1443.43,885.4 1444.18,882.8 1444.93,879.98 1445.68,876.98 1446.43,873.84 1447.18,870.63 1447.93,867.39 1448.68,864.1 1449.43,860.61 1450.18,856.76 1450.93,852.37 1451.69,847.12 1452.44,841.07 1453.19,834.46 1453.94,827.37 1454.69,819.49 1455.44,810.96 1456.19,801.97 1456.94,792.73 1457.69,783.42 1458.44,774.25 1459.19,765.42 1459.94,756.97 1460.69,748.45 1461.45,739.96 1462.2,731.67 1462.95,723.73 1463.7,716.29 1464.45,709.31 1465.2,702.16 1465.95,695.14 1466.7,688.68 1467.45,683.18 1468.2,679.06 1468.95,676.39 1469.7,674.02 1470.45,671.9 1471.21,670.17 1471.96,668.92 1472.71,668.29 1473.46,668.42 1474.21,669.53 1474.96,671.46 1475.71,674.05 1476.46,677.1 1477.21,680.45 1477.96,683.92 1478.71,687.33 1479.46,690.51 1480.21,693.28 1480.96,695.56 1481.72,697.63 1482.47,699.57 1483.22,701.46 1483.97,703.35 1484.72,705.28 1485.47,707.33 1486.22,709.54 1486.97,711.82 1487.72,713.98 1488.47,716.88 1489.22,722.5 1489.97,737.98 1490.72,756.67 1491.48,770.79 1492.23,782.72 1492.98,794.21 1493.73,806.47 1494.48,820.95 1495.23,838.24 1495.98,855.93 1496.73,871.44 1497.48,883.3 1498.23,894.32 1498.98,904.53 1499.73,913.53 1500.48,920.94 1501.24,926.37 1501.99,929.86 1502.74,932.84 1503.49,935.5 1504.24,937.86 1504.99,939.95 1505.74,941.77 1506.49,943.35 1507.24,944.71 1507.99,945.87 1508.74,946.84 1509.49,947.67 1510.24,948.44 1510.99,949.17 1511.75,949.86 1512.5,950.5 1513.25,951.1 1514,951.66 1514.75,952.18 1515.5,952.66 1516.25,953.09 1517,953.49 1517.75,953.84 1518.5,954.15 1519.25,954.42 1520,954.65 1520.75,954.83 1521.51,954.98 1522.26,955.12 1523.01,955.25 1523.76,955.37 1524.51,955.49 1525.26,955.61 1526.01,955.71 1526.76,955.82 1527.51,955.92 1528.26,956.01 1529.01,956.1 1529.76,956.18 1530.51,956.26 1531.27,956.34 1532.02,956.42 1532.77,956.49 1533.52,956.55 1534.27,956.62 1535.02,956.68 1535.77,956.74 1536.52,956.8 1537.27,956.86 1538.02,956.91 1538.77,956.97 1539.52,957.02 1540.27,957.07 1541.03,957.13 1541.78,957.18 1542.53,957.23 1543.28,957.28 1544.03,957.33 1544.78,957.39 1545.53,957.44 1546.28,957.5 1547.03,957.55 1547.78,957.61 1548.53,957.67 1549.28,957.74 1550.03,957.8 1550.78,957.87 1551.54,957.94 1552.29,958.02 1553.04,958.09 1553.79,958.16 1554.54,958.24 1555.29,958.32 1556.04,958.39 1556.79,958.47 1557.54,958.55 1558.29,958.63 1559.04,958.71 1559.79,958.79 1560.54,958.87 1561.3,958.95 1562.05,959.03 1562.8,959.11 1563.55,959.19 1564.3,959.27 1565.05,959.35 1565.8,959.43 1566.55,959.51 1567.3,959.59 1568.05,959.67 1568.8,959.74 1569.55,959.82 1570.3,959.9 1571.05,959.97 1571.81,960.04 1572.56,960.11 1573.31,960.18 1574.06,960.25 1574.81,960.32 1575.56,960.38 1576.31,960.45 1577.06,960.51 1577.81,960.57 1578.56,960.63 1579.31,960.68 1580.06,960.74 1580.81,960.79 1581.57,960.84 1582.32,960.88 1583.07,960.93 1583.82,960.97 1584.57,961 1585.32,961.04 1586.07,961.07 1586.82,961.1 1587.57,961.13 1588.32,961.15 1589.07,961.18 1589.82,961.21 1590.57,961.23 1591.33,961.26 1592.08,961.29 1592.83,961.31 1593.58,961.34 1594.33,961.36 1595.08,961.39 1595.83,961.41 1596.58,961.44 1597.33,961.46 1598.08,961.48 1598.83,961.5 1599.58,961.53 1600.33,961.55 1601.09,961.57 1601.84,961.59 1602.59,961.61 1603.34,961.62 1604.09,961.64 1604.84,961.66 1605.59,961.67 1606.34,961.69 1607.09,961.7 1607.84,961.72 1608.59,961.73 1609.34,961.74 1610.09,961.75 1610.84,961.76 1611.6,961.77 1612.35,961.78 1613.1,961.78 1613.85,961.79 1614.6,961.79 1615.35,961.8 1616.1,961.8 1616.85,961.8 1617.6,961.8 1618.35,961.8 1619.1,961.8 1619.85,961.79 1620.6,961.79 1621.36,961.78 1622.11,961.78 1622.86,961.77 1623.61,961.76 1624.36,961.75 1625.11,961.75 1625.86,961.73 1626.61,961.72 1627.36,961.71 1628.11,961.7 1628.86,961.68 1629.61,961.67 1630.36,961.65 1631.12,961.64 1631.87,961.62 1632.62,961.6 1633.37,961.58 1634.12,961.56 1634.87,961.54 1635.62,961.52 1636.37,961.5 1637.12,961.48 1637.87,961.45 1638.62,961.43 1639.37,961.4 1640.12,961.38 1640.87,961.35 1641.63,961.32 1642.38,961.29 1643.13,961.26 1643.88,961.23 1644.63,961.2 1645.38,961.17 1646.13,961.14 1646.88,961.11 1647.63,961.07 1648.38,961.02 1649.13,960.96 1649.88,960.88 1650.63,960.8 1651.39,960.71 1652.14,960.62 1652.89,960.52 1653.64,960.42 1654.39,960.32 1655.14,960.22 1655.89,960.12 1656.64,960.02 1657.39,959.9 1658.14,959.78 1658.89,959.65 1659.64,959.51 1660.39,959.35 1661.14,959.19 1661.9,959.01 1662.65,958.82 1663.4,958.61 1664.15,958.38 1664.9,958.11 1665.65,957.79 1666.4,957.42 1667.15,956.99 1667.9,956.49 1668.65,955.91 1669.4,955.24 1670.15,954.26 1670.9,952.87 1671.66,951.29 1672.41,949.43 1673.16,947.22 1673.91,944.61 1674.66,941.41 1675.41,937.74 1676.16,933.79 1676.91,929.73 1677.66,925.36 1678.41,920.59 1679.16,915.86 1679.91,911.61 1680.66,907.19 1681.42,903.25 1682.17,902.04 1682.92,904.05 1683.67,907.75 1684.42,911.61 1685.17,915.38 1685.92,919.59 1686.67,923.94 1687.42,928.16 1688.17,932.1 1688.92,936.08 1689.67,939.93 1690.42,943.4 1691.17,946.25 1691.93,948.64 1692.68,950.64 1693.43,952.25 1694.18,953.66 1694.93,954.89 1695.68,955.88 1696.43,956.61 1697.18,957.25 1697.93,957.84 1698.68,958.37 1699.43,958.85 1700.18,959.26 1700.93,959.59 1701.69,959.85 1702.44,960.01 1703.19,960.11 1703.94,960.2 1704.69,960.27 1705.44,960.34 1706.19,960.39 1706.94,960.44 1707.69,960.48 1708.44,960.52 1709.19,960.56 1709.94,960.61 1710.69,960.66 1711.45,960.72 1712.2,960.78 1712.95,960.86 1713.7,960.94 1714.45,961.03 1715.2,961.13 1715.95,961.22 1716.7,961.32 1717.45,961.42 1718.2,961.52 1718.95,961.61 1719.7,961.7 1720.45,961.78 1721.2,961.86 1721.96,961.93 1722.71,961.99 1723.46,962.04 1724.21,962.07 1724.96,962.1 1725.71,962.12 1726.46,962.14 1727.21,962.16 1727.96,962.17 1728.71,962.19 1729.46,962.21 1730.21,962.22 1730.96,962.24 1731.72,962.26 1732.47,962.27 1733.22,962.29 1733.97,962.31 1734.72,962.32 1735.47,962.34 1736.22,962.35 1736.97,962.37 1737.72,962.38 1738.47,962.4 1739.22,962.41 1739.97,962.42 1740.72,962.44 1741.48,962.45 1742.23,962.47 1742.98,962.48 1743.73,962.49 1744.48,962.5 1745.23,962.52 1745.98,962.53 1746.73,962.54 1747.48,962.55 1748.23,962.56 1748.98,962.57 1749.73,962.59 1750.48,962.6 1751.23,962.61 1751.99,962.62 1752.74,962.63 1753.49,962.64 1754.24,962.65 1754.99,962.66 1755.74,962.67 1756.49,962.67 1757.24,962.68 1757.99,962.69 1758.74,962.7 1759.49,962.71 1760.24,962.72 1760.99,962.72 1761.75,962.73 1762.5,962.74 1763.25,962.75 1764,962.75 1764.75,962.76 1765.5,962.77 1766.25,962.77 1767,962.78 1767.75,962.79 1768.5,962.79 1769.25,962.8 1770,962.81 1770.75,962.81 1771.51,962.82 1772.26,962.82 1773.01,962.83 1773.76,962.83 1774.51,962.84 1775.26,962.84 1776.01,962.84 1776.76,962.85 1777.51,962.85 1778.26,962.86 1779.01,962.86 1779.76,962.86 1780.51,962.87 1781.26,962.87 1782.02,962.87 1782.77,962.87 1783.52,962.88 1784.27,962.88 1785.02,962.88 1785.77,962.88 1786.52,962.89 1787.27,962.89 1788.02,962.89 1788.77,962.89 1789.52,962.89 1790.27,962.89 1791.02,962.9 1791.78,962.9 1792.53,962.9 1793.28,962.9 1794.03,962.9 1794.78,962.9 1795.53,962.9 1796.28,962.9 1797.03,962.9" stroke="#000" stroke-width="5.8"/>
<polyline points="1316.7,946.9 1317.45,947.62 1318.2,948.31 1318.95,948.97 1319.7,949.59 1320.45,950.17 1321.21,950.69 1321.96,951.16 1322.71,951.56 1323.46,951.95 1324.21,952.34 1324.96,952.72 1325.71,953.08 1326.46,953.42 1327.21,953.71 1327.96,953.95 1328.71,954.14 1329.46,954.26 1330.21,954.3 1330.97,954.28 1331.72,954.22 1332.47,954.13 1333.22,954.02 1333.97,953.87 1334.72,953.71 1335.47,953.53 1336.22,953.34 1336.97,953.14 1337.72,952.9 1338.47,952.56 1339.22,952.14 1339.97,951.65 1340.72,951.12 1341.48,950.55 1342.23,949.98 1342.98,949.41 1343.73,948.87 1344.48,948.37 1345.23,947.93 1345.98,947.49 1346.73,947.06 1347.48,946.62 1348.23,946.19 1348.98,945.77 1349.73,945.37 1350.48,944.97 1351.24,944.6 1351.99,944.26 1352.74,943.94 1353.49,943.65 1354.24,943.4 1354.99,943.18 1355.74,942.98 1356.49,942.79 1357.24,942.62 1357.99,942.45 1358.74,942.29 1359.49,942.12 1360.24,941.95 1361,941.76 1361.75,941.59 1362.5,941.43 1363.25,941.27 1364,941.11 1364.75,940.94 1365.5,940.75 1366.25,940.53 1367,940.27 1367.75,939.97 1368.5,939.53 1369.25,938.96 1370,938.28 1370.75,937.52 1371.51,936.69 1372.26,935.83 1373.01,934.95 1373.76,934.08 1374.51,933.23 1375.26,932.33 1376.01,931.35 1376.76,930.33 1377.51,929.28 1378.26,928.23 1379.01,927.21 1379.76,926.25 1380.51,925.37 1381.27,924.59 1382.02,923.8 1382.77,922.98 1383.52,922.16 1384.27,921.34 1385.02,920.56 1385.77,919.83 1386.52,919.17 1387.27,918.61 1388.02,918.15 1388.77,917.82 1389.52,917.63 1390.27,917.61 1391.03,917.72 1391.78,917.93 1392.53,918.23 1393.28,918.6 1394.03,919.03 1394.78,919.5 1395.53,920 1396.28,920.5 1397.03,921 1397.78,921.62 1398.53,922.39 1399.28,923.26 1400.03,924.17 1400.78,925.09 1401.54,925.97 1402.29,926.76 1403.04,927.4 1403.79,927.88 1404.54,928.32 1405.29,928.75 1406.04,929.16 1406.79,929.53 1407.54,929.87 1408.29,930.14 1409.04,930.34 1409.79,930.47 1410.54,930.5 1411.3,930.5 1412.05,930.5 1412.8,930.5 1413.55,930.5 1414.3,930.5 1415.05,930.5 1415.8,930.5 1416.55,930.5 1417.3,930.48 1418.05,930.32 1418.8,929.99 1419.55,929.52 1420.3,928.95 1421.06,928.29 1421.81,927.58 1422.56,926.83 1423.31,926.08 1424.06,925.35 1424.81,924.56 1425.56,923.68 1426.31,922.71 1427.06,921.67 1427.81,920.57 1428.56,919.44 1429.31,918.28 1430.06,917.1 1430.81,915.93 1431.57,914.72 1432.32,913.46 1433.07,912.16 1433.82,910.83 1434.57,909.46 1435.32,908.06 1436.07,906.63 1436.82,905.18 1437.57,903.7 1438.32,902.23 1439.07,900.76 1439.82,899.25 1440.57,897.69 1441.33,896.05 1442.08,894.29 1442.83,892.4 1443.58,890.33 1444.33,888.01 1445.08,885.46 1445.83,882.75 1446.58,879.91 1447.33,876.98 1448.08,874.03 1448.83,871.02 1449.58,867.82 1450.33,864.28 1451.09,860.24 1451.84,855.39 1452.59,849.79 1453.34,843.65 1454.09,837.08 1454.84,829.77 1455.59,821.85 1456.34,813.51 1457.09,804.92 1457.84,796.28 1458.59,787.76 1459.34,779.55 1460.09,771.7 1460.84,763.79 1461.6,755.9 1462.35,748.19 1463.1,740.81 1463.85,733.9 1464.6,727.41 1465.35,720.76 1466.1,714.23 1466.85,708.22 1467.6,703.11 1468.35,699.29 1469.1,696.8 1469.85,694.59 1470.6,692.63 1471.36,691.01 1472.11,689.85 1472.86,689.26 1473.61,689.38 1474.36,690.41 1475.11,692.2 1475.86,694.59 1476.61,697.43 1477.36,700.53 1478.11,703.75 1478.86,706.91 1479.61,709.86 1480.36,712.42 1481.12,714.52 1481.87,716.42 1482.62,718.2 1483.37,719.93 1484.12,721.64 1484.87,723.4 1485.62,725.25 1486.37,727.25 1487.12,729.3 1487.87,731.24 1488.62,733.85 1489.37,738.98 1490.12,753.3 1490.87,770.63 1491.63,783.69 1492.38,794.7 1493.13,805.3 1493.88,816.61 1494.63,830.03 1495.38,846.09 1496.13,862.56 1496.88,877.02 1497.63,888.06 1498.38,898.34 1499.13,907.89 1499.88,916.32 1500.63,923.27 1501.39,928.37 1502.14,931.61 1502.89,934.39 1503.64,936.88 1504.39,939.1 1505.14,941.06 1505.89,942.77 1506.64,944.27 1507.39,945.56 1508.14,946.65 1508.89,947.58 1509.64,948.36 1510.39,949.1 1511.15,949.8 1511.9,950.46 1512.65,951.09 1513.4,951.67 1514.15,952.22 1514.9,952.73 1515.65,953.2 1516.4,953.63 1517.15,954.01 1517.9,954.36 1518.65,954.67 1519.4,954.93 1520.15,955.16 1520.9,955.34 1521.66,955.49 1522.41,955.62 1523.16,955.75 1523.91,955.88 1524.66,956 1525.41,956.11 1526.16,956.22 1526.91,956.32 1527.66,956.42 1528.41,956.51 1529.16,956.6 1529.91,956.68 1530.66,956.77 1531.42,956.84 1532.17,956.92 1532.92,956.99 1533.67,957.05 1534.42,957.12 1535.17,957.18 1535.92,957.24 1536.67,957.3 1537.42,957.36 1538.17,957.41 1538.92,957.47 1539.67,957.52 1540.42,957.57 1541.18,957.63 1541.93,957.68 1542.68,957.73 1543.43,957.78 1544.18,957.83 1544.93,957.89 1545.68,957.94 1546.43,958 1547.18,958.05 1547.93,958.11 1548.68,958.17 1549.43,958.24 1550.18,958.3 1550.93,958.37 1551.69,958.44 1552.44,958.52 1553.19,958.59 1553.94,958.66 1554.69,958.74 1555.44,958.82 1556.19,958.89 1556.94,958.97 1557.69,959.05 1558.44,959.13 1559.19,959.21 1559.94,959.29 1560.69,959.37 1561.45,959.45 1562.2,959.53 1562.95,959.61 1563.7,959.69 1564.45,959.77 1565.2,959.85 1565.95,959.93 1566.7,960.01 1567.45,960.09 1568.2,960.17 1568.95,960.24 1569.7,960.32 1570.45,960.4 1571.21,960.47 1571.96,960.54 1572.71,960.61 1573.46,960.68 1574.21,960.75 1574.96,960.82 1575.71,960.88 1576.46,960.95 1577.21,961.01 1577.96,961.07 1578.71,961.13 1579.46,961.18 1580.21,961.24 1580.96,961.29 1581.72,961.34 1582.47,961.38 1583.22,961.43 1583.97,961.47 1584.72,961.5 1585.47,961.54 1586.22,961.57 1586.97,961.6 1587.72,961.63 1588.47,961.65 1589.22,961.68 1589.97,961.71 1590.72,961.73 1591.48,961.76 1592.23,961.79 1592.98,961.81 1593.73,961.84 1594.48,961.86 1595.23,961.89 1595.98,961.91 1596.73,961.94 1597.48,961.96 1598.23,961.98 1598.98,962 1599.73,962.03 1600.48,962.05 1601.24,962.07 1601.99,962.09 1602.74,962.11 1603.49,962.12 1604.24,962.14 1604.99,962.16 1605.74,962.17 1606.49,962.19 1607.24,962.2 1607.99,962.22 1608.74,962.23 1609.49,962.24 1610.24,962.25 1610.99,962.26 1611.75,962.27 1612.5,962.28 1613.25,962.28 1614,962.29 1614.75,962.29 1615.5,962.3 1616.25,962.3 1617,962.3 1617.75,962.3 1618.5,962.3 1619.25,962.3 1620,962.29 1620.75,962.29 1621.51,962.28 1622.26,962.28 1623.01,962.27 1623.76,962.26 1624.51,962.25 1625.26,962.25 1626.01,962.23 1626.76,962.22 1627.51,962.21 1628.26,962.2 1629.01,962.18 1629.76,962.17 1630.51,962.15 1631.27,962.14 1632.02,962.12 1632.77,962.1 1633.52,962.08 1634.27,962.06 1635.02,962.04 1635.77,962.02 1636.52,962 1637.27,961.98 1638.02,961.95 1638.77,961.93 1639.52,961.9 1640.27,961.87 1641.02,961.85 1641.78,961.82 1642.53,961.79 1643.28,961.76 1644.03,961.73 1644.78,961.7 1645.53,961.67 1646.28,961.64 1647.03,961.6 1647.78,961.57 1648.53,961.51 1649.28,961.45 1650.03,961.38 1650.78,961.29 1651.54,961.2 1652.29,961.1 1653.04,961 1653.79,960.89 1654.54,960.78 1655.29,960.67 1656.04,960.56 1656.79,960.44 1657.54,960.31 1658.29,960.16 1659.04,960 1659.79,959.82 1660.54,959.63 1661.3,959.42 1662.05,959.2 1662.8,958.96 1663.55,958.7 1664.3,958.42 1665.05,958.09 1665.8,957.71 1666.55,957.27 1667.3,956.75 1668.05,956.16 1668.8,955.48 1669.55,954.7 1670.3,953.56 1671.05,951.95 1671.81,950.11 1672.56,947.96 1673.31,945.39 1674.06,942.36 1674.81,938.65 1675.56,934.4 1676.31,929.81 1677.06,925.12 1677.81,920.04 1678.56,914.52 1679.31,909.04 1680.06,904.1 1680.81,898.99 1681.57,894.42 1682.32,893.02 1683.07,895.35 1683.82,899.63 1684.57,904.11 1685.32,908.48 1686.07,913.35 1686.82,918.4 1687.57,923.29 1688.32,927.86 1689.07,932.47 1689.82,936.93 1690.57,940.95 1691.33,944.26 1692.08,947.02 1692.83,949.35 1693.58,951.21 1694.33,952.85 1695.08,954.27 1695.83,955.43 1696.58,956.28 1697.33,957.02 1698.08,957.71 1698.83,958.34 1699.58,958.89 1700.33,959.37 1701.08,959.77 1701.84,960.07 1702.59,960.26 1703.34,960.39 1704.09,960.51 1704.84,960.61 1705.59,960.69 1706.34,960.77 1707.09,960.83 1707.84,960.89 1708.59,960.95 1709.34,961.01 1710.09,961.06 1710.84,961.12 1711.6,961.19 1712.35,961.26 1713.1,961.34 1713.85,961.43 1714.6,961.52 1715.35,961.62 1716.1,961.72 1716.85,961.82 1717.6,961.92 1718.35,962.02 1719.1,962.11 1719.85,962.2 1720.6,962.28 1721.36,962.36 1722.11,962.43 1722.86,962.49 1723.61,962.54 1724.36,962.57 1725.11,962.6 1725.86,962.62 1726.61,962.64 1727.36,962.66 1728.11,962.67 1728.86,962.69 1729.61,962.71 1730.36,962.72 1731.11,962.74 1731.87,962.76 1732.62,962.77 1733.37,962.79 1734.12,962.81 1734.87,962.82 1735.62,962.84 1736.37,962.85 1737.12,962.87 1737.87,962.88 1738.62,962.9 1739.37,962.91 1740.12,962.92 1740.87,962.94 1741.63,962.95 1742.38,962.97 1743.13,962.98 1743.88,962.99 1744.63,963 1745.38,963.02 1746.13,963.03 1746.88,963.04 1747.63,963.05 1748.38,963.06 1749.13,963.07 1749.88,963.09 1750.63,963.1 1751.39,963.11 1752.14,963.12 1752.89,963.13 1753.64,963.14 1754.39,963.15 1755.14,963.16 1755.89,963.17 1756.64,963.17 1757.39,963.18 1758.14,963.19 1758.89,963.2 1759.64,963.21 1760.39,963.22 1761.14,963.22 1761.9,963.23 1762.65,963.24 1763.4,963.25 1764.15,963.25 1764.9,963.26 1765.65,963.27 1766.4,963.27 1767.15,963.28 1767.9,963.29 1768.65,963.29 1769.4,963.3 1770.15,963.31 1770.9,963.31 1771.66,963.32 1772.41,963.32 1773.16,963.33 1773.91,963.33 1774.66,963.34 1775.41,963.34 1776.16,963.34 1776.91,963.35 1777.66,963.35 1778.41,963.36 1779.16,963.36 1779.91,963.36 1780.66,963.37 1781.42,963.37 1782.17,963.37 1782.92,963.37 1783.67,963.38 1784.42,963.38 1785.17,963.38 1785.92,963.38 1786.67,963.39 1787.42,963.39 1788.17,963.39 1788.92,963.39 1789.67,963.39 1790.42,963.39 1791.17,963.4 1791.93,963.4 1792.68,963.4 1793.43,963.4 1794.18,963.4 1794.93,963.4 1795.68,963.4 1796.43,963.4 1797.18,963.4" stroke="#FF2200" stroke-width="5.8"/>
<polyline points="1315.8,945.8 1316.55,946.52 1317.3,947.21 1318.05,947.87 1318.8,948.49 1319.55,949.07 1320.3,949.59 1321.06,950.06 1321.81,950.46 1322.56,950.85 1323.31,951.24 1324.06,951.62 1324.81,951.98 1325.56,952.32 1326.31,952.61 1327.06,952.85 1327.81,953.04 1328.56,953.16 1329.31,953.2 1330.06,953.18 1330.82,953.12 1331.57,953.03 1332.32,952.92 1333.07,952.77 1333.82,952.61 1334.57,952.43 1335.32,952.24 1336.07,952.04 1336.82,951.8 1337.57,951.46 1338.32,951.04 1339.07,950.55 1339.82,950.02 1340.57,949.45 1341.33,948.88 1342.08,948.31 1342.83,947.77 1343.58,947.27 1344.33,946.83 1345.08,946.39 1345.83,945.96 1346.58,945.52 1347.33,945.09 1348.08,944.67 1348.83,944.27 1349.58,943.87 1350.33,943.5 1351.09,943.16 1351.84,942.84 1352.59,942.55 1353.34,942.3 1354.09,942.08 1354.84,941.88 1355.59,941.69 1356.34,941.52 1357.09,941.35 1357.84,941.19 1358.59,941.02 1359.34,940.85 1360.09,940.66 1360.85,940.49 1361.6,940.33 1362.35,940.17 1363.1,940.01 1363.85,939.84 1364.6,939.65 1365.35,939.43 1366.1,939.17 1366.85,938.87 1367.6,938.43 1368.35,937.86 1369.1,937.18 1369.85,936.42 1370.6,935.59 1371.36,934.73 1372.11,933.85 1372.86,932.98 1373.61,932.13 1374.36,931.23 1375.11,930.25 1375.86,929.23 1376.61,928.18 1377.36,927.13 1378.11,926.11 1378.86,925.15 1379.61,924.27 1380.36,923.49 1381.12,922.7 1381.87,921.88 1382.62,921.06 1383.37,920.24 1384.12,919.46 1384.87,918.73 1385.62,918.07 1386.37,917.51 1387.12,917.05 1387.87,916.72 1388.62,916.53 1389.37,916.51 1390.12,916.62 1390.88,916.83 1391.63,917.13 1392.38,917.5 1393.13,917.93 1393.88,918.4 1394.63,918.9 1395.38,919.4 1396.13,919.9 1396.88,920.52 1397.63,921.29 1398.38,922.16 1399.13,923.07 1399.88,923.99 1400.63,924.87 1401.39,925.65 1402.14,926.3 1402.89,926.77 1403.64,927.21 1404.39,927.65 1405.14,928.06 1405.89,928.43 1406.64,928.76 1407.39,929.04 1408.14,929.24 1408.89,929.36 1409.64,929.4 1410.39,929.4 1411.15,929.39 1411.9,929.39 1412.65,929.39 1413.4,929.39 1414.15,929.39 1414.9,929.39 1415.65,929.38 1416.4,929.37 1417.15,929.19 1417.9,928.86 1418.65,928.39 1419.4,927.81 1420.15,927.14 1420.9,926.42 1421.66,925.67 1422.41,924.91 1423.16,924.16 1423.91,923.35 1424.66,922.44 1425.41,921.45 1426.16,920.38 1426.91,919.25 1427.66,918.07 1428.41,916.86 1429.16,915.63 1429.91,914.39 1430.66,913.11 1431.42,911.77 1432.17,910.38 1432.92,908.94 1433.67,907.46 1434.42,905.94 1435.17,904.38 1435.92,902.79 1436.67,901.17 1437.42,899.55 1438.17,897.93 1438.92,896.27 1439.67,894.56 1440.42,892.76 1441.18,890.85 1441.93,888.8 1442.68,886.57 1443.43,884.08 1444.18,881.37 1444.93,878.49 1445.68,875.47 1446.43,872.37 1447.18,869.24 1447.93,866.07 1448.68,862.69 1449.43,858.97 1450.18,854.72 1450.93,849.63 1451.69,843.76 1452.44,837.33 1453.19,830.45 1453.94,822.8 1454.69,814.52 1455.44,805.79 1456.19,796.8 1456.94,787.76 1457.69,778.86 1458.44,770.27 1459.19,762.06 1459.94,753.78 1460.69,745.54 1461.45,737.48 1462.2,729.76 1462.95,722.53 1463.7,715.75 1464.45,708.8 1465.2,701.98 1465.95,695.7 1466.7,690.35 1467.45,686.35 1468.2,683.76 1468.95,681.45 1469.7,679.39 1470.45,677.7 1471.21,676.49 1471.96,675.88 1472.71,676.01 1473.46,677.08 1474.21,678.96 1474.96,681.47 1475.71,684.43 1476.46,687.68 1477.21,691.05 1477.96,694.36 1478.71,697.45 1479.46,700.14 1480.21,702.34 1480.96,704.34 1481.72,706.23 1482.47,708.05 1483.22,709.86 1483.97,711.73 1484.72,713.7 1485.47,715.82 1486.22,718.01 1486.97,720.09 1487.72,722.87 1488.47,728.29 1489.22,743.31 1489.97,761.46 1490.72,775.15 1491.48,786.71 1492.23,797.85 1492.98,809.73 1493.73,823.78 1494.48,840.58 1495.23,857.78 1495.98,872.88 1496.73,884.41 1497.48,895.13 1498.23,905.07 1498.98,913.85 1499.73,921.07 1500.48,926.37 1501.24,929.76 1501.99,932.66 1502.74,935.25 1503.49,937.56 1504.24,939.59 1504.99,941.37 1505.74,942.92 1506.49,944.25 1507.24,945.38 1507.99,946.33 1508.74,947.14 1509.49,947.9 1510.24,948.62 1510.99,949.3 1511.75,949.94 1512.5,950.53 1513.25,951.09 1514,951.6 1514.75,952.07 1515.5,952.51 1516.25,952.9 1517,953.25 1517.75,953.56 1518.5,953.82 1519.25,954.05 1520,954.23 1520.75,954.38 1521.51,954.52 1522.26,954.65 1523.01,954.77 1523.76,954.89 1524.51,955.01 1525.26,955.12 1526.01,955.22 1526.76,955.32 1527.51,955.41 1528.26,955.5 1529.01,955.58 1529.76,955.66 1530.51,955.74 1531.27,955.82 1532.02,955.89 1532.77,955.95 1533.52,956.02 1534.27,956.08 1535.02,956.14 1535.77,956.2 1536.52,956.26 1537.27,956.31 1538.02,956.37 1538.77,956.42 1539.52,956.47 1540.27,956.53 1541.03,956.58 1541.78,956.63 1542.53,956.68 1543.28,956.73 1544.03,956.79 1544.78,956.84 1545.53,956.9 1546.28,956.95 1547.03,957.01 1547.78,957.07 1548.53,957.14 1549.28,957.2 1550.03,957.27 1550.78,957.34 1551.54,957.42 1552.29,957.49 1553.04,957.56 1553.79,957.64 1554.54,957.72 1555.29,957.79 1556.04,957.87 1556.79,957.95 1557.54,958.03 1558.29,958.11 1559.04,958.19 1559.79,958.27 1560.54,958.35 1561.3,958.43 1562.05,958.51 1562.8,958.59 1563.55,958.67 1564.3,958.75 1565.05,958.83 1565.8,958.91 1566.55,958.99 1567.3,959.07 1568.05,959.14 1568.8,959.22 1569.55,959.3 1570.3,959.37 1571.05,959.44 1571.81,959.51 1572.56,959.58 1573.31,959.65 1574.06,959.72 1574.81,959.78 1575.56,959.85 1576.31,959.91 1577.06,959.97 1577.81,960.03 1578.56,960.08 1579.31,960.14 1580.06,960.19 1580.81,960.24 1581.57,960.28 1582.32,960.33 1583.07,960.37 1583.82,960.4 1584.57,960.44 1585.32,960.47 1586.07,960.5 1586.82,960.53 1587.57,960.55 1588.32,960.58 1589.07,960.61 1589.82,960.63 1590.57,960.66 1591.33,960.69 1592.08,960.71 1592.83,960.74 1593.58,960.76 1594.33,960.79 1595.08,960.81 1595.83,960.84 1596.58,960.86 1597.33,960.88 1598.08,960.9 1598.83,960.93 1599.58,960.95 1600.33,960.97 1601.09,960.99 1601.84,961.01 1602.59,961.02 1603.34,961.04 1604.09,961.06 1604.84,961.07 1605.59,961.09 1606.34,961.1 1607.09,961.12 1607.84,961.13 1608.59,961.14 1609.34,961.15 1610.09,961.16 1610.84,961.17 1611.6,961.18 1612.35,961.18 1613.1,961.19 1613.85,961.19 1614.6,961.2 1615.35,961.2 1616.1,961.2 1616.85,961.2 1617.6,961.2 1618.35,961.2 1619.1,961.19 1619.85,961.19 1620.6,961.18 1621.36,961.18 1622.11,961.17 1622.86,961.16 1623.61,961.15 1624.36,961.15 1625.11,961.13 1625.86,961.12 1626.61,961.11 1627.36,961.1 1628.11,961.08 1628.86,961.07 1629.61,961.05 1630.36,961.04 1631.12,961.02 1631.87,961 1632.62,960.98 1633.37,960.96 1634.12,960.94 1634.87,960.92 1635.62,960.9 1636.37,960.88 1637.12,960.85 1637.87,960.83 1638.62,960.8 1639.37,960.77 1640.12,960.75 1640.87,960.72 1641.63,960.69 1642.38,960.66 1643.13,960.63 1643.88,960.6 1644.63,960.57 1645.38,960.54 1646.13,960.5 1646.88,960.46 1647.63,960.41 1648.38,960.35 1649.13,960.27 1649.88,960.19 1650.63,960.09 1651.39,959.99 1652.14,959.89 1652.89,959.77 1653.64,959.66 1654.39,959.54 1655.14,959.42 1655.89,959.29 1656.64,959.14 1657.39,958.98 1658.14,958.79 1658.89,958.59 1659.64,958.37 1660.39,958.14 1661.14,957.89 1661.9,957.61 1662.65,957.32 1663.4,956.99 1664.15,956.62 1664.9,956.2 1665.65,955.71 1666.4,955.14 1667.15,954.48 1667.9,953.73 1668.65,952.88 1669.4,951.62 1670.15,949.85 1670.9,947.83 1671.66,945.47 1672.41,942.65 1673.16,939.34 1673.91,935.27 1674.66,930.61 1675.41,925.58 1676.16,920.43 1676.91,914.87 1677.66,908.82 1678.41,902.81 1679.16,897.4 1679.91,891.8 1680.66,886.79 1681.42,885.25 1682.17,887.81 1682.92,892.5 1683.67,897.41 1684.42,902.19 1685.17,907.53 1685.92,913.07 1686.67,918.43 1687.42,923.43 1688.17,928.49 1688.92,933.38 1689.67,937.78 1690.42,941.41 1691.17,944.44 1691.93,946.99 1692.68,949.04 1693.43,950.83 1694.18,952.4 1694.93,953.66 1695.68,954.6 1696.43,955.41 1697.18,956.17 1697.93,956.86 1698.68,957.47 1699.43,958 1700.18,958.44 1700.93,958.77 1701.69,958.99 1702.44,959.14 1703.19,959.28 1703.94,959.39 1704.69,959.49 1705.44,959.58 1706.19,959.66 1706.94,959.73 1707.69,959.8 1708.44,959.87 1709.19,959.93 1709.94,960 1710.69,960.07 1711.45,960.15 1712.2,960.23 1712.95,960.32 1713.7,960.42 1714.45,960.52 1715.2,960.62 1715.95,960.72 1716.7,960.82 1717.45,960.92 1718.2,961.01 1718.95,961.1 1719.7,961.18 1720.45,961.26 1721.2,961.33 1721.96,961.39 1722.71,961.44 1723.46,961.47 1724.21,961.5 1724.96,961.52 1725.71,961.54 1726.46,961.56 1727.21,961.57 1727.96,961.59 1728.71,961.61 1729.46,961.62 1730.21,961.64 1730.96,961.66 1731.72,961.67 1732.47,961.69 1733.22,961.71 1733.97,961.72 1734.72,961.74 1735.47,961.75 1736.22,961.77 1736.97,961.78 1737.72,961.8 1738.47,961.81 1739.22,961.82 1739.97,961.84 1740.72,961.85 1741.48,961.87 1742.23,961.88 1742.98,961.89 1743.73,961.9 1744.48,961.92 1745.23,961.93 1745.98,961.94 1746.73,961.95 1747.48,961.96 1748.23,961.97 1748.98,961.99 1749.73,962 1750.48,962.01 1751.23,962.02 1751.99,962.03 1752.74,962.04 1753.49,962.05 1754.24,962.06 1754.99,962.07 1755.74,962.07 1756.49,962.08 1757.24,962.09 1757.99,962.1 1758.74,962.11 1759.49,962.12 1760.24,962.12 1760.99,962.13 1761.75,962.14 1762.5,962.15 1763.25,962.15 1764,962.16 1764.75,962.17 1765.5,962.17 1766.25,962.18 1767,962.19 1767.75,962.19 1768.5,962.2 1769.25,962.21 1770,962.21 1770.75,962.22 1771.51,962.22 1772.26,962.23 1773.01,962.23 1773.76,962.24 1774.51,962.24 1775.26,962.24 1776.01,962.25 1776.76,962.25 1777.51,962.26 1778.26,962.26 1779.01,962.26 1779.76,962.27 1780.51,962.27 1781.26,962.27 1782.02,962.27 1782.77,962.28 1783.52,962.28 1784.27,962.28 1785.02,962.28 1785.77,962.29 1786.52,962.29 1787.27,962.29 1788.02,962.29 1788.77,962.29 1789.52,962.29 1790.27,962.3 1791.02,962.3 1791.78,962.3 1792.53,962.3 1793.28,962.3 1794.03,962.3 1794.78,962.3 1795.53,962.3 1796.28,962.3" stroke="#0A8A0A" stroke-width="5.8"/>
<polyline points="1315.8,945.8 1316.55,946.52 1317.3,947.21 1318.05,947.87 1318.8,948.49 1319.55,949.07 1320.3,949.59 1321.06,950.06 1321.81,950.46 1322.56,950.85 1323.31,951.24 1324.06,951.62 1324.81,951.98 1325.56,952.32 1326.31,952.61 1327.06,952.85 1327.81,953.04 1328.56,953.16 1329.31,953.2 1330.06,953.18 1330.82,953.12 1331.57,953.03 1332.32,952.92 1333.07,952.77 1333.82,952.61 1334.57,952.43 1335.32,952.24 1336.07,952.04 1336.82,951.8 1337.57,951.46 1338.32,951.04 1339.07,950.55 1339.82,950.02 1340.57,949.45 1341.33,948.88 1342.08,948.31 1342.83,947.77 1343.58,947.27 1344.33,946.83 1345.08,946.39 1345.83,945.96 1346.58,945.52 1347.33,945.09 1348.08,944.67 1348.83,944.27 1349.58,943.87 1350.33,943.5 1351.09,943.16 1351.84,942.84 1352.59,942.55 1353.34,942.3 1354.09,942.08 1354.84,941.88 1355.59,941.69 1356.34,941.52 1357.09,941.35 1357.84,941.19 1358.59,941.02 1359.34,940.85 1360.09,940.66 1360.85,940.49 1361.6,940.33 1362.35,940.17 1363.1,940.01 1363.85,939.84 1364.6,939.65 1365.35,939.43 1366.1,939.17 1366.85,938.87 1367.6,938.43 1368.35,937.86 1369.1,937.18 1369.85,936.42 1370.6,935.59 1371.36,934.73 1372.11,933.85 1372.86,932.98 1373.61,932.13 1374.36,931.23 1375.11,930.25 1375.86,929.23 1376.61,928.18 1377.36,927.13 1378.11,926.11 1378.86,925.15 1379.61,924.27 1380.36,923.49 1381.12,922.7 1381.87,921.88 1382.62,921.06 1383.37,920.24 1384.12,919.46 1384.87,918.73 1385.62,918.07 1386.37,917.51 1387.12,917.05 1387.87,916.72 1388.62,916.53 1389.37,916.51 1390.12,916.62 1390.88,916.83 1391.63,917.13 1392.38,917.5 1393.13,917.93 1393.88,918.4 1394.63,918.9 1395.38,919.4 1396.13,919.9 1396.88,920.52 1397.63,921.29 1398.38,922.16 1399.13,923.07 1399.88,923.99 1400.63,924.87 1401.39,925.66 1402.14,926.3 1402.89,926.78 1403.64,927.22 1404.39,927.65 1405.14,928.06 1405.89,928.43 1406.64,928.77 1407.39,929.04 1408.14,929.24 1408.89,929.37 1409.64,929.4 1410.39,929.4 1411.15,929.4 1411.9,929.4 1412.65,929.4 1413.4,929.4 1414.15,929.4 1414.9,929.4 1415.65,929.4 1416.4,929.38 1417.15,929.22 1417.9,928.89 1418.65,928.42 1419.4,927.85 1420.15,927.19 1420.9,926.48 1421.66,925.73 1422.41,924.98 1423.16,924.25 1423.91,923.46 1424.66,922.58 1425.41,921.61 1426.16,920.57 1426.91,919.47 1427.66,918.34 1428.41,917.18 1429.16,916 1429.91,914.83 1430.66,913.62 1431.42,912.36 1432.17,911.06 1432.92,909.73 1433.67,908.36 1434.42,906.96 1435.17,905.53 1435.92,904.08 1436.67,902.6 1437.42,901.13 1438.17,899.66 1438.92,898.15 1439.67,896.59 1440.42,894.95 1441.18,893.19 1441.93,891.3 1442.68,889.23 1443.43,886.91 1444.18,884.36 1444.93,881.65 1445.68,878.81 1446.43,875.88 1447.18,872.93 1447.93,869.92 1448.68,866.72 1449.43,863.18 1450.18,859.14 1450.93,854.29 1451.69,848.69 1452.44,842.55 1453.19,835.98 1453.94,828.67 1454.69,820.75 1455.44,812.41 1456.19,803.82 1456.94,795.18 1457.69,786.66 1458.44,778.45 1459.19,770.6 1459.94,762.69 1460.69,754.8 1461.45,747.09 1462.2,739.71 1462.95,732.8 1463.7,726.31 1464.45,719.66 1465.2,713.13 1465.95,707.12 1466.7,702.01 1467.45,698.19 1468.2,695.7 1468.95,693.49 1469.7,691.53 1470.45,689.91 1471.21,688.75 1471.96,688.16 1472.71,688.28 1473.46,689.31 1474.21,691.1 1474.96,693.49 1475.71,696.33 1476.46,699.43 1477.21,702.65 1477.96,705.81 1478.71,708.76 1479.46,711.32 1480.21,713.42 1480.96,715.32 1481.72,717.1 1482.47,718.83 1483.22,720.54 1483.97,722.3 1484.72,724.15 1485.47,726.15 1486.22,728.2 1486.97,730.14 1487.72,732.75 1488.47,737.88 1489.22,752.2 1489.97,769.53 1490.72,782.59 1491.48,793.6 1492.23,804.2 1492.98,815.51 1493.73,828.93 1494.48,844.99 1495.23,861.46 1495.98,875.92 1496.73,886.96 1497.48,897.24 1498.23,906.79 1498.98,915.22 1499.73,922.17 1500.48,927.27 1501.24,930.51 1501.99,933.29 1502.74,935.78 1503.49,938 1504.24,939.96 1504.99,941.67 1505.74,943.17 1506.49,944.46 1507.24,945.55 1507.99,946.48 1508.74,947.26 1509.49,948 1510.24,948.7 1510.99,949.36 1511.75,949.99 1512.5,950.57 1513.25,951.12 1514,951.63 1514.75,952.1 1515.5,952.53 1516.25,952.91 1517,953.26 1517.75,953.57 1518.5,953.83 1519.25,954.06 1520,954.24 1520.75,954.39 1521.51,954.52 1522.26,954.65 1523.01,954.78 1523.76,954.9 1524.51,955.01 1525.26,955.12 1526.01,955.22 1526.76,955.32 1527.51,955.41 1528.26,955.5 1529.01,955.58 1529.76,955.67 1530.51,955.74 1531.27,955.82 1532.02,955.89 1532.77,955.95 1533.52,956.02 1534.27,956.08 1535.02,956.14 1535.77,956.2 1536.52,956.26 1537.27,956.31 1538.02,956.37 1538.77,956.42 1539.52,956.47 1540.27,956.53 1541.03,956.58 1541.78,956.63 1542.53,956.68 1543.28,956.73 1544.03,956.79 1544.78,956.84 1545.53,956.9 1546.28,956.95 1547.03,957.01 1547.78,957.07 1548.53,957.14 1549.28,957.2 1550.03,957.27 1550.78,957.34 1551.54,957.42 1552.29,957.49 1553.04,957.56 1553.79,957.64 1554.54,957.72 1555.29,957.79 1556.04,957.87 1556.79,957.95 1557.54,958.03 1558.29,958.11 1559.04,958.19 1559.79,958.27 1560.54,958.35 1561.3,958.43 1562.05,958.51 1562.8,958.59 1563.55,958.67 1564.3,958.75 1565.05,958.83 1565.8,958.91 1566.55,958.99 1567.3,959.07 1568.05,959.14 1568.8,959.22 1569.55,959.3 1570.3,959.37 1571.05,959.44 1571.81,959.51 1572.56,959.58 1573.31,959.65 1574.06,959.72 1574.81,959.78 1575.56,959.85 1576.31,959.91 1577.06,959.97 1577.81,960.03 1578.56,960.08 1579.31,960.14 1580.06,960.19 1580.81,960.24 1581.57,960.28 1582.32,960.33 1583.07,960.37 1583.82,960.4 1584.57,960.44 1585.32,960.47 1586.07,960.5 1586.82,960.53 1587.57,960.55 1588.32,960.58 1589.07,960.61 1589.82,960.63 1590.57,960.66 1591.33,960.69 1592.08,960.71 1592.83,960.74 1593.58,960.76 1594.33,960.79 1595.08,960.81 1595.83,960.84 1596.58,960.86 1597.33,960.88 1598.08,960.9 1598.83,960.93 1599.58,960.95 1600.33,960.97 1601.09,960.99 1601.84,961.01 1602.59,961.02 1603.34,961.04 1604.09,961.06 1604.84,961.07 1605.59,961.09 1606.34,961.1 1607.09,961.12 1607.84,961.13 1608.59,961.14 1609.34,961.15 1610.09,961.16 1610.84,961.17 1611.6,961.18 1612.35,961.18 1613.1,961.19 1613.85,961.19 1614.6,961.2 1615.35,961.2 1616.1,961.2 1616.85,961.2 1617.6,961.2 1618.35,961.2 1619.1,961.19 1619.85,961.19 1620.6,961.18 1621.36,961.18 1622.11,961.17 1622.86,961.16 1623.61,961.15 1624.36,961.15 1625.11,961.13 1625.86,961.12 1626.61,961.11 1627.36,961.1 1628.11,961.08 1628.86,961.07 1629.61,961.05 1630.36,961.04 1631.12,961.02 1631.87,961 1632.62,960.98 1633.37,960.96 1634.12,960.94 1634.87,960.92 1635.62,960.9 1636.37,960.88 1637.12,960.85 1637.87,960.83 1638.62,960.8 1639.37,960.77 1640.12,960.75 1640.87,960.72 1641.63,960.69 1642.38,960.66 1643.13,960.63 1643.88,960.6 1644.63,960.57 1645.38,960.53 1646.13,960.5 1646.88,960.46 1647.63,960.41 1648.38,960.34 1649.13,960.26 1649.88,960.17 1650.63,960.07 1651.39,959.96 1652.14,959.85 1652.89,959.72 1653.64,959.59 1654.39,959.45 1655.14,959.3 1655.89,959.14 1656.64,958.95 1657.39,958.73 1658.14,958.49 1658.89,958.22 1659.64,957.93 1660.39,957.61 1661.14,957.27 1661.9,956.9 1662.65,956.5 1663.4,956.07 1664.15,955.58 1664.9,955.03 1665.65,954.39 1666.4,953.66 1667.15,952.83 1667.9,951.88 1668.65,950.8 1669.4,949.22 1670.15,947.01 1670.9,944.48 1671.66,941.52 1672.41,937.99 1673.16,933.84 1673.91,928.76 1674.66,922.93 1675.41,916.64 1676.16,910.2 1676.91,903.24 1677.66,895.67 1678.41,888.16 1679.16,881.4 1679.91,874.39 1680.66,868.13 1681.42,866.21 1682.17,869.4 1682.92,875.26 1683.67,881.4 1684.42,887.38 1685.17,894.06 1685.92,900.98 1686.67,907.68 1687.42,913.94 1688.17,920.27 1688.92,926.38 1689.67,931.89 1690.42,936.42 1691.17,940.21 1691.93,943.4 1692.68,945.96 1693.43,948.21 1694.18,950.17 1694.93,951.76 1695.68,952.93 1696.43,953.96 1697.18,954.92 1697.93,955.79 1698.68,956.56 1699.43,957.23 1700.18,957.78 1700.93,958.21 1701.69,958.5 1702.44,958.71 1703.19,958.89 1703.94,959.06 1704.69,959.21 1705.44,959.34 1706.19,959.46 1706.94,959.56 1707.69,959.66 1708.44,959.76 1709.19,959.84 1709.94,959.93 1710.69,960.02 1711.45,960.11 1712.2,960.2 1712.95,960.3 1713.7,960.4 1714.45,960.51 1715.2,960.61 1715.95,960.71 1716.7,960.81 1717.45,960.91 1718.2,961.01 1718.95,961.1 1719.7,961.18 1720.45,961.26 1721.2,961.33 1721.96,961.39 1722.71,961.44 1723.46,961.47 1724.21,961.5 1724.96,961.52 1725.71,961.54 1726.46,961.56 1727.21,961.57 1727.96,961.59 1728.71,961.61 1729.46,961.62 1730.21,961.64 1730.96,961.66 1731.72,961.67 1732.47,961.69 1733.22,961.71 1733.97,961.72 1734.72,961.74 1735.47,961.75 1736.22,961.77 1736.97,961.78 1737.72,961.8 1738.47,961.81 1739.22,961.82 1739.97,961.84 1740.72,961.85 1741.48,961.87 1742.23,961.88 1742.98,961.89 1743.73,961.9 1744.48,961.92 1745.23,961.93 1745.98,961.94 1746.73,961.95 1747.48,961.96 1748.23,961.97 1748.98,961.99 1749.73,962 1750.48,962.01 1751.23,962.02 1751.99,962.03 1752.74,962.04 1753.49,962.05 1754.24,962.06 1754.99,962.07 1755.74,962.07 1756.49,962.08 1757.24,962.09 1757.99,962.1 1758.74,962.11 1759.49,962.12 1760.24,962.12 1760.99,962.13 1761.75,962.14 1762.5,962.15 1763.25,962.15 1764,962.16 1764.75,962.17 1765.5,962.17 1766.25,962.18 1767,962.19 1767.75,962.19 1768.5,962.2 1769.25,962.21 1770,962.21 1770.75,962.22 1771.51,962.22 1772.26,962.23 1773.01,962.23 1773.76,962.24 1774.51,962.24 1775.26,962.24 1776.01,962.25 1776.76,962.25 1777.51,962.26 1778.26,962.26 1779.01,962.26 1779.76,962.27 1780.51,962.27 1781.26,962.27 1782.02,962.27 1782.77,962.28 1783.52,962.28 1784.27,962.28 1785.02,962.28 1785.77,962.29 1786.52,962.29 1787.27,962.29 1788.02,962.29 1788.77,962.29 1789.52,962.29 1790.27,962.3 1791.02,962.3 1791.78,962.3 1792.53,962.3 1793.28,962.3 1794.03,962.3 1794.78,962.3 1795.53,962.3 1796.28,962.3" stroke="#2A44FF" stroke-width="5.8"/>
</g>
<line x1="1578.2" y1="612.7" x2="1629.3" y2="612.7" stroke="#000" stroke-width="6" stroke-linecap="round"/>
<text x="1637.3" y="620.3" font-size="23.9" fill="#000" text-anchor="start" font-weight="bold" >as-fabricated</text>
<line x1="1578.2" y1="642.5" x2="1629.3" y2="642.5" stroke="#FF2200" stroke-width="6" stroke-linecap="round"/>
<text x="1637.3" y="650.1" font-size="23.9" fill="#FF2200" text-anchor="start" font-weight="bold" >1 cycle</text>
<line x1="1578.2" y1="672.4" x2="1629.3" y2="672.4" stroke="#0A8A0A" stroke-width="6" stroke-linecap="round"/>
<text x="1637.3" y="680" font-size="23.9" fill="#0A8A0A" text-anchor="start" font-weight="bold" >2 cycles</text>
<line x1="1578.2" y1="702.1" x2="1629.3" y2="702.1" stroke="#2A44FF" stroke-width="6" stroke-linecap="round"/>
<text x="1637.3" y="709.7" font-size="23.9" fill="#2A44FF" text-anchor="start" font-weight="bold" >3 cycles</text>
</svg>
</body></html>
